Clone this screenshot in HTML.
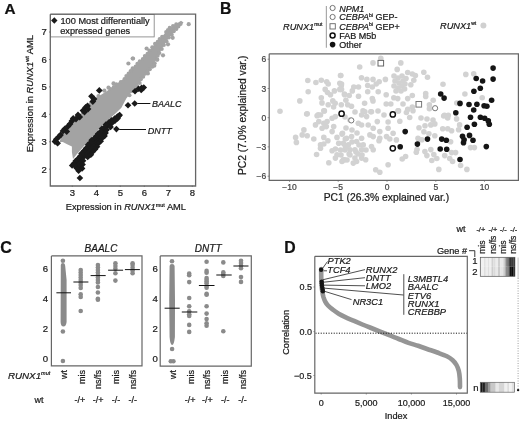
<!DOCTYPE html>
<html><head><meta charset="utf-8"><title>Figure</title>
<style>html,body{margin:0;padding:0;background:#fff;} svg{display:block;} text{font-family:'Liberation Sans',Arial,sans-serif;}</style></head>
<body><svg width="520" height="422" viewBox="0 0 520 422">
<rect width="520" height="422" fill="#fff"/>
<text x="4.5" y="13.8" font-size="15.3" text-anchor="start" fill="#111" stroke="#111" stroke-width="0.22" font-weight="bold" style="">A</text>
<polygon points="181.0,20.8 183.5,22.5 179.0,27.0 174.0,31.5 169.0,37.5 164.0,45.0 159.5,53.0 156.5,59.0 152.0,66.5 145.5,74.2 139.5,82.7 132.0,91.3 126.3,98.4 121.4,107.8 116.0,113.0 108.0,120.0 100.0,128.0 92.0,137.0 84.0,146.0 77.0,154.0 73.0,159.0 71.9,152.0 71.9,146.4 67.1,144.2 62.8,141.9 60.0,142.0 60.0,140.0 62.5,135.5 66.5,130.0 70.5,124.5 75.5,118.5 84.0,110.0 89.0,102.5 93.0,99.0 100.0,95.5 107.0,91.0 116.3,84.1 124.0,78.4 131.0,71.3 135.0,66.0 140.0,61.5 144.5,55.6 149.5,50.8 154.9,43.7 162.0,36.6 166.0,32.0 170.0,28.0 176.0,24.0" fill="#a3a3a3"/>
<circle cx="176.2" cy="24.2" r="2.0" fill="#a3a3a3" stroke="none" stroke-width="1"/>
<circle cx="173.0" cy="26.0" r="2.0" fill="#a3a3a3" stroke="none" stroke-width="1"/>
<circle cx="169.7" cy="27.7" r="2.0" fill="#a3a3a3" stroke="none" stroke-width="1"/>
<circle cx="166.1" cy="32.1" r="2.0" fill="#a3a3a3" stroke="none" stroke-width="1"/>
<circle cx="162.1" cy="36.7" r="2.0" fill="#a3a3a3" stroke="none" stroke-width="1"/>
<circle cx="159.6" cy="39.0" r="2.0" fill="#a3a3a3" stroke="none" stroke-width="1"/>
<circle cx="157.7" cy="41.8" r="2.0" fill="#a3a3a3" stroke="none" stroke-width="1"/>
<circle cx="155.0" cy="43.8" r="2.0" fill="#a3a3a3" stroke="none" stroke-width="1"/>
<circle cx="152.2" cy="47.2" r="2.0" fill="#a3a3a3" stroke="none" stroke-width="1"/>
<circle cx="149.3" cy="50.6" r="2.0" fill="#a3a3a3" stroke="none" stroke-width="1"/>
<circle cx="147.5" cy="53.7" r="2.0" fill="#a3a3a3" stroke="none" stroke-width="1"/>
<circle cx="144.8" cy="55.9" r="2.0" fill="#a3a3a3" stroke="none" stroke-width="1"/>
<circle cx="142.8" cy="59.1" r="2.0" fill="#a3a3a3" stroke="none" stroke-width="1"/>
<circle cx="139.8" cy="61.3" r="2.0" fill="#a3a3a3" stroke="none" stroke-width="1"/>
<circle cx="137.4" cy="63.7" r="2.0" fill="#a3a3a3" stroke="none" stroke-width="1"/>
<circle cx="135.6" cy="66.6" r="2.0" fill="#a3a3a3" stroke="none" stroke-width="1"/>
<circle cx="132.6" cy="68.2" r="2.0" fill="#a3a3a3" stroke="none" stroke-width="1"/>
<circle cx="130.6" cy="70.9" r="2.0" fill="#a3a3a3" stroke="none" stroke-width="1"/>
<circle cx="128.6" cy="73.6" r="2.0" fill="#a3a3a3" stroke="none" stroke-width="1"/>
<circle cx="126.3" cy="76.0" r="2.0" fill="#a3a3a3" stroke="none" stroke-width="1"/>
<circle cx="124.5" cy="78.9" r="2.0" fill="#a3a3a3" stroke="none" stroke-width="1"/>
<circle cx="120.8" cy="81.9" r="2.0" fill="#a3a3a3" stroke="none" stroke-width="1"/>
<circle cx="116.4" cy="84.2" r="2.0" fill="#a3a3a3" stroke="none" stroke-width="1"/>
<circle cx="113.8" cy="87.0" r="2.0" fill="#a3a3a3" stroke="none" stroke-width="1"/>
<circle cx="110.5" cy="89.1" r="2.0" fill="#a3a3a3" stroke="none" stroke-width="1"/>
<circle cx="180.6" cy="24.1" r="2.0" fill="#a3a3a3" stroke="none" stroke-width="1"/>
<circle cx="178.4" cy="26.4" r="2.0" fill="#a3a3a3" stroke="none" stroke-width="1"/>
<circle cx="176.4" cy="29.1" r="2.0" fill="#a3a3a3" stroke="none" stroke-width="1"/>
<circle cx="173.8" cy="31.3" r="2.0" fill="#a3a3a3" stroke="none" stroke-width="1"/>
<circle cx="171.8" cy="34.8" r="2.0" fill="#a3a3a3" stroke="none" stroke-width="1"/>
<circle cx="168.9" cy="37.4" r="2.0" fill="#a3a3a3" stroke="none" stroke-width="1"/>
<circle cx="166.5" cy="41.3" r="2.0" fill="#a3a3a3" stroke="none" stroke-width="1"/>
<circle cx="163.9" cy="44.9" r="2.0" fill="#a3a3a3" stroke="none" stroke-width="1"/>
<circle cx="161.8" cy="49.1" r="2.0" fill="#a3a3a3" stroke="none" stroke-width="1"/>
<circle cx="159.4" cy="52.9" r="2.0" fill="#a3a3a3" stroke="none" stroke-width="1"/>
<circle cx="157.7" cy="55.7" r="2.0" fill="#a3a3a3" stroke="none" stroke-width="1"/>
<circle cx="156.9" cy="59.4" r="2.0" fill="#a3a3a3" stroke="none" stroke-width="1"/>
<circle cx="154.7" cy="63.2" r="2.0" fill="#a3a3a3" stroke="none" stroke-width="1"/>
<circle cx="152.3" cy="66.8" r="2.0" fill="#a3a3a3" stroke="none" stroke-width="1"/>
<circle cx="149.9" cy="69.2" r="2.0" fill="#a3a3a3" stroke="none" stroke-width="1"/>
<circle cx="147.4" cy="71.3" r="2.0" fill="#a3a3a3" stroke="none" stroke-width="1"/>
<circle cx="145.1" cy="73.8" r="2.0" fill="#a3a3a3" stroke="none" stroke-width="1"/>
<circle cx="143.2" cy="76.7" r="2.0" fill="#a3a3a3" stroke="none" stroke-width="1"/>
<circle cx="140.9" cy="79.3" r="2.0" fill="#a3a3a3" stroke="none" stroke-width="1"/>
<circle cx="139.7" cy="82.9" r="2.0" fill="#a3a3a3" stroke="none" stroke-width="1"/>
<circle cx="136.8" cy="85.4" r="2.0" fill="#a3a3a3" stroke="none" stroke-width="1"/>
<circle cx="134.8" cy="88.7" r="2.0" fill="#a3a3a3" stroke="none" stroke-width="1"/>
<circle cx="131.8" cy="91.1" r="2.0" fill="#a3a3a3" stroke="none" stroke-width="1"/>
<circle cx="129.5" cy="95.2" r="2.0" fill="#a3a3a3" stroke="none" stroke-width="1"/>
<circle cx="188.7" cy="24.2" r="2.1" fill="#a3a3a3" stroke="none" stroke-width="1"/>
<circle cx="172.7" cy="37.8" r="2.1" fill="#a3a3a3" stroke="none" stroke-width="1"/>
<circle cx="168.0" cy="44.3" r="2.1" fill="#a3a3a3" stroke="none" stroke-width="1"/>
<circle cx="163.0" cy="55.3" r="2.1" fill="#a3a3a3" stroke="none" stroke-width="1"/>
<circle cx="157.3" cy="59.7" r="2.1" fill="#a3a3a3" stroke="none" stroke-width="1"/>
<circle cx="154.3" cy="65.7" r="2.1" fill="#a3a3a3" stroke="none" stroke-width="1"/>
<circle cx="146.6" cy="48.5" r="2.1" fill="#a3a3a3" stroke="none" stroke-width="1"/>
<circle cx="133.0" cy="58.5" r="2.1" fill="#a3a3a3" stroke="none" stroke-width="1"/>
<circle cx="132.7" cy="58.5" r="2.1" fill="#a3a3a3" stroke="none" stroke-width="1"/>
<circle cx="128.4" cy="63.5" r="2.1" fill="#a3a3a3" stroke="none" stroke-width="1"/>
<circle cx="147.9" cy="73.5" r="2.1" fill="#a3a3a3" stroke="none" stroke-width="1"/>
<circle cx="113.5" cy="83.4" r="2.1" fill="#a3a3a3" stroke="none" stroke-width="1"/>
<circle cx="108.5" cy="87.7" r="2.1" fill="#a3a3a3" stroke="none" stroke-width="1"/>
<circle cx="168.0" cy="30.0" r="2.1" fill="#a3a3a3" stroke="none" stroke-width="1"/>
<circle cx="104.4" cy="90.7" r="2.1" fill="#a3a3a3" stroke="none" stroke-width="1"/>
<circle cx="98.5" cy="96.0" r="2.1" fill="#a3a3a3" stroke="none" stroke-width="1"/>
<polygon points="119.9,115.4 111.9,120.2 106.4,125.0 100.4,130.9 95.4,136.8 88.4,144.6 85.9,148.5 81.9,153.9 77.9,158.9 73.4,163.4 72.4,165.4 73.4,164.8 78.3,170.6 81.6,168.1 82.4,160.4 87.6,156.9 92.2,151.4 98.4,143.8 102.2,138.4 106.9,129.9 111.9,122.9 118.9,115.4" fill="#1a1a1a"/>
<path d="M119.7 111.8L122.9 115.0L119.7 118.2L116.5 115.0Z" fill="#1a1a1a"/>
<path d="M117.4 113.3L120.6 116.5L117.4 119.7L114.2 116.5Z" fill="#1a1a1a"/>
<path d="M114.6 115.2L117.8 118.4L114.6 121.6L111.4 118.4Z" fill="#1a1a1a"/>
<path d="M111.4 117.0L114.6 120.2L111.4 123.4L108.2 120.2Z" fill="#1a1a1a"/>
<path d="M108.6 119.3L111.8 122.5L108.6 125.7L105.4 122.5Z" fill="#1a1a1a"/>
<path d="M105.9 121.3L109.1 124.5L105.9 127.7L102.7 124.5Z" fill="#1a1a1a"/>
<path d="M104.3 124.2L107.5 127.4L104.3 130.6L101.1 127.4Z" fill="#1a1a1a"/>
<path d="M101.9 125.4L105.1 128.6L101.9 131.8L98.7 128.6Z" fill="#1a1a1a"/>
<path d="M100.6 128.2L103.8 131.4L100.6 134.6L97.4 131.4Z" fill="#1a1a1a"/>
<path d="M98.0 130.5L101.2 133.7L98.0 136.9L94.8 133.7Z" fill="#1a1a1a"/>
<path d="M96.0 133.1L99.2 136.3L96.0 139.5L92.8 136.3Z" fill="#1a1a1a"/>
<path d="M94.1 135.3L97.3 138.5L94.1 141.7L90.9 138.5Z" fill="#1a1a1a"/>
<path d="M91.5 137.0L94.7 140.2L91.5 143.4L88.3 140.2Z" fill="#1a1a1a"/>
<path d="M89.9 139.8L93.1 143.0L89.9 146.2L86.7 143.0Z" fill="#1a1a1a"/>
<path d="M88.0 141.5L91.2 144.7L88.0 147.9L84.8 144.7Z" fill="#1a1a1a"/>
<path d="M86.1 145.1L89.3 148.3L86.1 151.5L82.9 148.3Z" fill="#1a1a1a"/>
<path d="M84.0 147.5L87.2 150.7L84.0 153.9L80.8 150.7Z" fill="#1a1a1a"/>
<path d="M81.4 150.3L84.6 153.5L81.4 156.7L78.2 153.5Z" fill="#1a1a1a"/>
<path d="M80.1 153.1L83.3 156.3L80.1 159.5L76.9 156.3Z" fill="#1a1a1a"/>
<path d="M77.7 155.8L80.9 159.0L77.7 162.2L74.5 159.0Z" fill="#1a1a1a"/>
<path d="M75.6 157.7L78.8 160.9L75.6 164.1L72.4 160.9Z" fill="#1a1a1a"/>
<path d="M73.8 160.4L77.0 163.6L73.8 166.8L70.6 163.6Z" fill="#1a1a1a"/>
<path d="M72.1 162.3L75.3 165.5L72.1 168.7L68.9 165.5Z" fill="#1a1a1a"/>
<path d="M119.3 112.3L122.6 115.6L119.3 118.9L116.0 115.6Z" fill="#1a1a1a"/>
<path d="M117.6 115.1L120.9 118.4L117.6 121.7L114.3 118.4Z" fill="#1a1a1a"/>
<path d="M115.0 117.5L118.3 120.8L115.0 124.1L111.7 120.8Z" fill="#1a1a1a"/>
<path d="M112.0 119.6L115.3 122.9L112.0 126.2L108.7 122.9Z" fill="#1a1a1a"/>
<path d="M110.6 123.7L113.9 127.0L110.6 130.3L107.3 127.0Z" fill="#1a1a1a"/>
<path d="M106.7 126.5L110.0 129.8L106.7 133.1L103.4 129.8Z" fill="#1a1a1a"/>
<path d="M105.6 129.6L108.9 132.9L105.6 136.2L102.3 132.9Z" fill="#1a1a1a"/>
<path d="M104.6 132.7L107.9 136.0L104.6 139.3L101.3 136.0Z" fill="#1a1a1a"/>
<path d="M102.0 135.0L105.3 138.3L102.0 141.6L98.7 138.3Z" fill="#1a1a1a"/>
<path d="M100.7 138.0L104.0 141.3L100.7 144.6L97.4 141.3Z" fill="#1a1a1a"/>
<path d="M98.1 140.3L101.4 143.6L98.1 146.9L94.8 143.6Z" fill="#1a1a1a"/>
<path d="M97.0 143.4L100.3 146.7L97.0 150.0L93.7 146.7Z" fill="#1a1a1a"/>
<path d="M95.1 146.0L98.4 149.3L95.1 152.6L91.8 149.3Z" fill="#1a1a1a"/>
<path d="M92.7 148.4L96.0 151.7L92.7 155.0L89.4 151.7Z" fill="#1a1a1a"/>
<path d="M90.9 151.4L94.2 154.7L90.9 158.0L87.6 154.7Z" fill="#1a1a1a"/>
<path d="M87.7 153.7L91.0 157.0L87.7 160.3L84.4 157.0Z" fill="#1a1a1a"/>
<path d="M83.1 157.5L86.4 160.8L83.1 164.1L79.8 160.8Z" fill="#1a1a1a"/>
<path d="M82.6 161.2L85.9 164.5L82.6 167.8L79.3 164.5Z" fill="#1a1a1a"/>
<path d="M82.1 165.1L85.4 168.4L82.1 171.7L78.8 168.4Z" fill="#1a1a1a"/>
<path d="M78.6 167.5L81.9 170.8L78.6 174.1L75.3 170.8Z" fill="#1a1a1a"/>
<path d="M76.8 164.9L80.1 168.2L76.8 171.5L73.5 168.2Z" fill="#1a1a1a"/>
<path d="M74.5 162.1L77.8 165.4L74.5 168.7L71.2 165.4Z" fill="#1a1a1a"/>
<path d="M99.3 87.0L102.7 90.4L99.3 93.8L95.9 90.4Z" fill="#1a1a1a"/>
<path d="M91.5 92.9L94.9 96.3L91.5 99.7L88.1 96.3Z" fill="#1a1a1a"/>
<path d="M92.8 98.1L96.2 101.5L92.8 104.9L89.4 101.5Z" fill="#1a1a1a"/>
<path d="M94.0 95.6L97.4 99.0L94.0 102.4L90.6 99.0Z" fill="#1a1a1a"/>
<path d="M85.6 104.0L89.0 107.4L85.6 110.8L82.2 107.4Z" fill="#1a1a1a"/>
<path d="M83.0 107.2L86.4 110.6L83.0 114.0L79.6 110.6Z" fill="#1a1a1a"/>
<path d="M87.5 102.6L90.9 106.0L87.5 109.4L84.1 106.0Z" fill="#1a1a1a"/>
<path d="M84.5 108.6L87.9 112.0L84.5 115.4L81.1 112.0Z" fill="#1a1a1a"/>
<path d="M88.0 105.6L91.4 109.0L88.0 112.4L84.6 109.0Z" fill="#1a1a1a"/>
<path d="M79.7 113.7L83.1 117.1L79.7 120.5L76.3 117.1Z" fill="#1a1a1a"/>
<path d="M73.2 115.0L76.6 118.4L73.2 121.8L69.8 118.4Z" fill="#1a1a1a"/>
<path d="M71.9 117.6L75.3 121.0L71.9 124.4L68.5 121.0Z" fill="#1a1a1a"/>
<path d="M76.0 115.6L79.4 119.0L76.0 122.4L72.6 119.0Z" fill="#1a1a1a"/>
<path d="M78.0 111.6L81.4 115.0L78.0 118.4L74.6 115.0Z" fill="#1a1a1a"/>
<path d="M68.0 122.9L71.4 126.3L68.0 129.7L64.6 126.3Z" fill="#1a1a1a"/>
<path d="M64.8 125.5L68.2 128.9L64.8 132.3L61.4 128.9Z" fill="#1a1a1a"/>
<path d="M66.7 128.1L70.1 131.5L66.7 134.9L63.3 131.5Z" fill="#1a1a1a"/>
<path d="M70.0 120.6L73.4 124.0L70.0 127.4L66.6 124.0Z" fill="#1a1a1a"/>
<path d="M63.0 127.6L66.4 131.0L63.0 134.4L59.6 131.0Z" fill="#1a1a1a"/>
<path d="M58.9 133.3L62.3 136.7L58.9 140.1L55.5 136.7Z" fill="#1a1a1a"/>
<path d="M56.3 135.9L59.7 139.3L56.3 142.7L52.9 139.3Z" fill="#1a1a1a"/>
<path d="M57.6 139.8L61.0 143.2L57.6 146.6L54.2 143.2Z" fill="#1a1a1a"/>
<path d="M60.5 131.6L63.9 135.0L60.5 138.4L57.1 135.0Z" fill="#1a1a1a"/>
<path d="M55.0 138.1L58.4 141.5L55.0 144.9L51.6 141.5Z" fill="#1a1a1a"/>
<path d="M135.0 88.0L138.3 91.2L135.0 94.5L131.7 91.2Z" fill="#1a1a1a"/>
<path d="M138.5 85.4L141.8 88.7L138.5 92.0L135.2 88.7Z" fill="#1a1a1a"/>
<path d="M141.2 86.7L144.6 90.0L141.2 93.3L137.9 90.0Z" fill="#1a1a1a"/>
<path d="M143.8 84.2L147.1 87.5L143.8 90.8L140.4 87.5Z" fill="#1a1a1a"/>
<path d="M141.6 84.6L144.9 87.9L141.6 91.2L138.3 87.9Z" fill="#1a1a1a"/>
<path d="M128.0 102.0L131.3 105.3L128.0 108.6L124.7 105.3Z" fill="#1a1a1a"/>
<path d="M134.7 100.2L138.0 103.5L134.7 106.8L131.4 103.5Z" fill="#1a1a1a"/>
<path d="M116.4 125.8L119.7 129.1L116.4 132.4L113.1 129.1Z" fill="#1a1a1a"/>
<path d="M79.9 174.7L83.2 178.0L79.9 181.3L76.6 178.0Z" fill="#1a1a1a"/>
<rect x="50.5" y="14.5" width="103.7" height="22.4" fill="#fff" stroke="#8a8a8a" stroke-width="0.9"/>
<path d="M54.3 17.3L57.5 20.5L54.3 23.7L51.1 20.5Z" fill="#1a1a1a"/>
<text x="60.5" y="23.8" font-size="9.2" text-anchor="start" fill="#1a1a1a" stroke="#1a1a1a" stroke-width="0.22"  style="">100 Most differentially</text>
<text x="60.2" y="34.4" font-size="9.2" text-anchor="start" fill="#1a1a1a" stroke="#1a1a1a" stroke-width="0.22"  style="">expressed genes</text>
<line x1="137.5" y1="103.5" x2="150.4" y2="103.5" stroke="#111" stroke-width="1"/>
<text x="151.9" y="106.8" font-size="9" text-anchor="start" fill="#1a1a1a" stroke="#1a1a1a" stroke-width="0.22"  style="font-style:italic">BAALC</text>
<line x1="119.2" y1="129.5" x2="146" y2="129.5" stroke="#111" stroke-width="1"/>
<text x="147.7" y="133.6" font-size="9" text-anchor="start" fill="#1a1a1a" stroke="#1a1a1a" stroke-width="0.22"  style="font-style:italic">DNTT</text>
<path d="M50.3 14.2V186H195.6V14.2H50.3" fill="none" stroke="#666" stroke-width="1.3"/>
<text x="46.7" y="35.4" font-size="9.5" text-anchor="end" fill="#1a1a1a" stroke="#1a1a1a" stroke-width="0.22"  style="">7</text>
<line x1="49" y1="32.0" x2="50.3" y2="32.0" stroke="#666" stroke-width="0.8"/>
<text x="46.7" y="62.9" font-size="9.5" text-anchor="end" fill="#1a1a1a" stroke="#1a1a1a" stroke-width="0.22"  style="">6</text>
<line x1="49" y1="59.5" x2="50.3" y2="59.5" stroke="#666" stroke-width="0.8"/>
<text x="46.7" y="90.3" font-size="9.5" text-anchor="end" fill="#1a1a1a" stroke="#1a1a1a" stroke-width="0.22"  style="">5</text>
<line x1="49" y1="86.9" x2="50.3" y2="86.9" stroke="#666" stroke-width="0.8"/>
<text x="46.7" y="117.8" font-size="9.5" text-anchor="end" fill="#1a1a1a" stroke="#1a1a1a" stroke-width="0.22"  style="">4</text>
<line x1="49" y1="114.3" x2="50.3" y2="114.3" stroke="#666" stroke-width="0.8"/>
<text x="46.7" y="145.2" font-size="9.5" text-anchor="end" fill="#1a1a1a" stroke="#1a1a1a" stroke-width="0.22"  style="">3</text>
<line x1="49" y1="141.8" x2="50.3" y2="141.8" stroke="#666" stroke-width="0.8"/>
<text x="46.7" y="172.7" font-size="9.5" text-anchor="end" fill="#1a1a1a" stroke="#1a1a1a" stroke-width="0.22"  style="">2</text>
<line x1="49" y1="169.2" x2="50.3" y2="169.2" stroke="#666" stroke-width="0.8"/>
<text x="72.3" y="195.8" font-size="9.5" text-anchor="middle" fill="#1a1a1a" stroke="#1a1a1a" stroke-width="0.22"  style="">3</text>
<line x1="72.3" y1="185.6" x2="72.3" y2="187" stroke="#666" stroke-width="0.8"/>
<text x="96.3" y="195.8" font-size="9.5" text-anchor="middle" fill="#1a1a1a" stroke="#1a1a1a" stroke-width="0.22"  style="">4</text>
<line x1="96.3" y1="185.6" x2="96.3" y2="187" stroke="#666" stroke-width="0.8"/>
<text x="120.3" y="195.8" font-size="9.5" text-anchor="middle" fill="#1a1a1a" stroke="#1a1a1a" stroke-width="0.22"  style="">5</text>
<line x1="120.3" y1="185.6" x2="120.3" y2="187" stroke="#666" stroke-width="0.8"/>
<text x="144.3" y="195.8" font-size="9.5" text-anchor="middle" fill="#1a1a1a" stroke="#1a1a1a" stroke-width="0.22"  style="">6</text>
<line x1="144.3" y1="185.6" x2="144.3" y2="187" stroke="#666" stroke-width="0.8"/>
<text x="168.3" y="195.8" font-size="9.5" text-anchor="middle" fill="#1a1a1a" stroke="#1a1a1a" stroke-width="0.22"  style="">7</text>
<line x1="168.3" y1="185.6" x2="168.3" y2="187" stroke="#666" stroke-width="0.8"/>
<text x="192.3" y="195.8" font-size="9.5" text-anchor="middle" fill="#1a1a1a" stroke="#1a1a1a" stroke-width="0.22"  style="">8</text>
<line x1="192.3" y1="185.6" x2="192.3" y2="187" stroke="#666" stroke-width="0.8"/>
<text x="125.9" y="210.0" font-size="9.3" text-anchor="middle" fill="#1a1a1a" stroke="#1a1a1a" stroke-width="0.22"  style="">Expression in <tspan font-style="italic">RUNX1</tspan><tspan font-size="5.5" dy="-3.5">mut</tspan><tspan dy="3.5"> AML</tspan></text>
<g transform="translate(32.8,93.55) rotate(-90)">
<text x="0.0" y="0.0" font-size="9.35" text-anchor="middle" fill="#1a1a1a" stroke="#1a1a1a" stroke-width="0.22"  style="">Expression in <tspan font-style="italic">RUNX1</tspan><tspan font-size="5.5" dy="-3.5">wt</tspan><tspan dy="3.5"> AML</tspan></text>
</g>
<text x="220.0" y="13.6" font-size="15.8" text-anchor="start" fill="#111" stroke="#111" stroke-width="0.22" font-weight="bold" style="">B</text>
<text x="283.0" y="29.5" font-size="9.2" text-anchor="start" fill="#1a1a1a" stroke="#1a1a1a" stroke-width="0.22"  style=""><tspan font-style="italic">RUNX1</tspan><tspan font-size="5" dy="-3.5">mut</tspan></text>
<line x1="326.4" y1="6" x2="326.4" y2="47.7" stroke="#aaa" stroke-width="1.2"/>
<circle cx="332.6" cy="8.0" r="2.6" fill="#fff" stroke="#666" stroke-width="0.9"/>
<circle cx="332.6" cy="17.0" r="2.6" fill="#fff" stroke="#666" stroke-width="0.9"/>
<rect x="330" y="23.7" width="5.3" height="5.3" fill="#fff" stroke="#666" stroke-width="0.9"/>
<circle cx="332.6" cy="35.5" r="2.5" fill="#fff" stroke="#111" stroke-width="1.5"/>
<circle cx="332.6" cy="44.6" r="2.8" fill="#111" stroke="none" stroke-width="1"/>
<text x="339.2" y="11.5" font-size="9" text-anchor="start" fill="#1a1a1a" stroke="#1a1a1a" stroke-width="0.22"  style="font-style:italic">NPM1</text>
<text x="339.2" y="20.3" font-size="9" text-anchor="start" fill="#1a1a1a" stroke="#1a1a1a" stroke-width="0.22"  style=""><tspan font-style="italic">CEBPA</tspan><tspan font-size="5" dy="-3.5">bi</tspan><tspan dy="3.5"> GEP-</tspan></text>
<text x="339.2" y="29.5" font-size="9" text-anchor="start" fill="#1a1a1a" stroke="#1a1a1a" stroke-width="0.22"  style=""><tspan font-style="italic">CEBPA</tspan><tspan font-size="5" dy="-3.5">bi</tspan><tspan dy="3.5"> GEP+</tspan></text>
<text x="339.2" y="38.6" font-size="9" text-anchor="start" fill="#1a1a1a" stroke="#1a1a1a" stroke-width="0.22"  style="">FAB M5b</text>
<text x="339.2" y="47.6" font-size="9" text-anchor="start" fill="#1a1a1a" stroke="#1a1a1a" stroke-width="0.22"  style="">Other</text>
<text x="440.0" y="28.8" font-size="9.2" text-anchor="start" fill="#1a1a1a" stroke="#1a1a1a" stroke-width="0.22"  style=""><tspan font-style="italic">RUNX1</tspan><tspan font-size="5" dy="-3.5">wt</tspan></text>
<circle cx="483.4" cy="25.4" r="3" fill="#d0d0d0" stroke="none" stroke-width="1"/>
<circle cx="340.5" cy="75.5" r="2.8" fill="#d2d2d2" stroke="none" stroke-width="1"/>
<circle cx="307.8" cy="80.5" r="2.8" fill="#d2d2d2" stroke="none" stroke-width="1"/>
<circle cx="315.9" cy="82.5" r="2.8" fill="#d2d2d2" stroke="none" stroke-width="1"/>
<circle cx="321.3" cy="80.2" r="2.8" fill="#d2d2d2" stroke="none" stroke-width="1"/>
<circle cx="326.7" cy="81.7" r="2.8" fill="#d2d2d2" stroke="none" stroke-width="1"/>
<circle cx="328.2" cy="84.0" r="2.8" fill="#d2d2d2" stroke="none" stroke-width="1"/>
<circle cx="339.8" cy="83.2" r="2.8" fill="#d2d2d2" stroke="none" stroke-width="1"/>
<circle cx="341.3" cy="85.5" r="2.8" fill="#d2d2d2" stroke="none" stroke-width="1"/>
<circle cx="308.2" cy="91.7" r="2.8" fill="#d2d2d2" stroke="none" stroke-width="1"/>
<circle cx="325.2" cy="89.4" r="2.8" fill="#d2d2d2" stroke="none" stroke-width="1"/>
<circle cx="327.5" cy="92.5" r="2.8" fill="#d2d2d2" stroke="none" stroke-width="1"/>
<circle cx="330.5" cy="94.8" r="2.8" fill="#d2d2d2" stroke="none" stroke-width="1"/>
<circle cx="334.4" cy="90.9" r="2.8" fill="#d2d2d2" stroke="none" stroke-width="1"/>
<circle cx="339.8" cy="89.4" r="2.8" fill="#d2d2d2" stroke="none" stroke-width="1"/>
<circle cx="344.4" cy="94.0" r="2.8" fill="#d2d2d2" stroke="none" stroke-width="1"/>
<circle cx="299.8" cy="100.9" r="2.8" fill="#d2d2d2" stroke="none" stroke-width="1"/>
<circle cx="321.3" cy="97.8" r="2.8" fill="#d2d2d2" stroke="none" stroke-width="1"/>
<circle cx="322.0" cy="102.9" r="2.8" fill="#d2d2d2" stroke="none" stroke-width="1"/>
<circle cx="328.2" cy="104.8" r="2.8" fill="#d2d2d2" stroke="none" stroke-width="1"/>
<circle cx="332.8" cy="100.9" r="2.8" fill="#d2d2d2" stroke="none" stroke-width="1"/>
<circle cx="335.2" cy="103.2" r="2.8" fill="#d2d2d2" stroke="none" stroke-width="1"/>
<circle cx="333.6" cy="107.0" r="2.8" fill="#d2d2d2" stroke="none" stroke-width="1"/>
<circle cx="341.3" cy="104.8" r="2.8" fill="#d2d2d2" stroke="none" stroke-width="1"/>
<circle cx="345.9" cy="100.2" r="2.8" fill="#d2d2d2" stroke="none" stroke-width="1"/>
<circle cx="280.0" cy="111.2" r="2.8" fill="#d2d2d2" stroke="none" stroke-width="1"/>
<circle cx="306.7" cy="114.0" r="2.8" fill="#d2d2d2" stroke="none" stroke-width="1"/>
<circle cx="318.2" cy="114.8" r="2.8" fill="#d2d2d2" stroke="none" stroke-width="1"/>
<circle cx="324.4" cy="110.9" r="2.8" fill="#d2d2d2" stroke="none" stroke-width="1"/>
<circle cx="373.0" cy="62.9" r="2.8" fill="#d2d2d2" stroke="none" stroke-width="1"/>
<circle cx="380.8" cy="58.3" r="2.8" fill="#d2d2d2" stroke="none" stroke-width="1"/>
<circle cx="359.7" cy="67.0" r="2.8" fill="#d2d2d2" stroke="none" stroke-width="1"/>
<circle cx="400.8" cy="62.9" r="2.8" fill="#d2d2d2" stroke="none" stroke-width="1"/>
<circle cx="397.2" cy="69.4" r="2.8" fill="#d2d2d2" stroke="none" stroke-width="1"/>
<circle cx="340.8" cy="75.5" r="2.8" fill="#d2d2d2" stroke="none" stroke-width="1"/>
<circle cx="361.5" cy="77.8" r="2.8" fill="#d2d2d2" stroke="none" stroke-width="1"/>
<circle cx="366.9" cy="79.4" r="2.8" fill="#d2d2d2" stroke="none" stroke-width="1"/>
<circle cx="373.0" cy="79.4" r="2.8" fill="#d2d2d2" stroke="none" stroke-width="1"/>
<circle cx="379.2" cy="81.7" r="2.8" fill="#d2d2d2" stroke="none" stroke-width="1"/>
<circle cx="385.4" cy="79.4" r="2.8" fill="#d2d2d2" stroke="none" stroke-width="1"/>
<circle cx="394.0" cy="76.0" r="2.8" fill="#d2d2d2" stroke="none" stroke-width="1"/>
<circle cx="398.0" cy="78.0" r="2.8" fill="#d2d2d2" stroke="none" stroke-width="1"/>
<circle cx="402.0" cy="76.0" r="2.8" fill="#d2d2d2" stroke="none" stroke-width="1"/>
<circle cx="395.0" cy="81.0" r="2.8" fill="#d2d2d2" stroke="none" stroke-width="1"/>
<circle cx="399.0" cy="83.0" r="2.8" fill="#d2d2d2" stroke="none" stroke-width="1"/>
<circle cx="403.0" cy="81.0" r="2.8" fill="#d2d2d2" stroke="none" stroke-width="1"/>
<circle cx="394.0" cy="86.0" r="2.8" fill="#d2d2d2" stroke="none" stroke-width="1"/>
<circle cx="398.0" cy="88.0" r="2.8" fill="#d2d2d2" stroke="none" stroke-width="1"/>
<circle cx="402.0" cy="86.0" r="2.8" fill="#d2d2d2" stroke="none" stroke-width="1"/>
<circle cx="396.0" cy="91.0" r="2.8" fill="#d2d2d2" stroke="none" stroke-width="1"/>
<circle cx="401.0" cy="91.0" r="2.8" fill="#d2d2d2" stroke="none" stroke-width="1"/>
<circle cx="405.0" cy="84.0" r="2.8" fill="#d2d2d2" stroke="none" stroke-width="1"/>
<circle cx="404.6" cy="89.0" r="2.8" fill="#d2d2d2" stroke="none" stroke-width="1"/>
<circle cx="407.7" cy="72.5" r="2.8" fill="#d2d2d2" stroke="none" stroke-width="1"/>
<circle cx="412.3" cy="74.0" r="2.8" fill="#d2d2d2" stroke="none" stroke-width="1"/>
<circle cx="415.4" cy="75.5" r="2.8" fill="#d2d2d2" stroke="none" stroke-width="1"/>
<circle cx="406.0" cy="78.6" r="2.8" fill="#d2d2d2" stroke="none" stroke-width="1"/>
<circle cx="413.8" cy="80.2" r="2.8" fill="#d2d2d2" stroke="none" stroke-width="1"/>
<circle cx="410.8" cy="84.8" r="2.8" fill="#d2d2d2" stroke="none" stroke-width="1"/>
<circle cx="367.7" cy="85.5" r="2.8" fill="#d2d2d2" stroke="none" stroke-width="1"/>
<circle cx="372.3" cy="87.0" r="2.8" fill="#d2d2d2" stroke="none" stroke-width="1"/>
<circle cx="376.2" cy="84.0" r="2.8" fill="#d2d2d2" stroke="none" stroke-width="1"/>
<circle cx="353.8" cy="87.0" r="2.8" fill="#d2d2d2" stroke="none" stroke-width="1"/>
<circle cx="358.5" cy="87.0" r="2.8" fill="#d2d2d2" stroke="none" stroke-width="1"/>
<circle cx="341.5" cy="84.0" r="2.8" fill="#d2d2d2" stroke="none" stroke-width="1"/>
<circle cx="341.5" cy="89.4" r="2.8" fill="#d2d2d2" stroke="none" stroke-width="1"/>
<circle cx="367.7" cy="91.7" r="2.8" fill="#d2d2d2" stroke="none" stroke-width="1"/>
<circle cx="378.2" cy="91.7" r="2.8" fill="#d2d2d2" stroke="none" stroke-width="1"/>
<circle cx="386.2" cy="94.8" r="2.8" fill="#d2d2d2" stroke="none" stroke-width="1"/>
<circle cx="344.6" cy="94.8" r="2.8" fill="#d2d2d2" stroke="none" stroke-width="1"/>
<circle cx="349.2" cy="95.5" r="2.8" fill="#d2d2d2" stroke="none" stroke-width="1"/>
<circle cx="352.3" cy="90.9" r="2.8" fill="#d2d2d2" stroke="none" stroke-width="1"/>
<circle cx="358.5" cy="96.3" r="2.8" fill="#d2d2d2" stroke="none" stroke-width="1"/>
<circle cx="372.3" cy="98.6" r="2.8" fill="#d2d2d2" stroke="none" stroke-width="1"/>
<circle cx="373.0" cy="100.9" r="2.8" fill="#d2d2d2" stroke="none" stroke-width="1"/>
<circle cx="393.8" cy="97.8" r="2.8" fill="#d2d2d2" stroke="none" stroke-width="1"/>
<circle cx="397.7" cy="98.6" r="2.8" fill="#d2d2d2" stroke="none" stroke-width="1"/>
<circle cx="407.7" cy="98.6" r="2.8" fill="#d2d2d2" stroke="none" stroke-width="1"/>
<circle cx="412.3" cy="95.5" r="2.8" fill="#d2d2d2" stroke="none" stroke-width="1"/>
<circle cx="364.6" cy="103.2" r="2.8" fill="#d2d2d2" stroke="none" stroke-width="1"/>
<circle cx="386.2" cy="104.0" r="2.8" fill="#d2d2d2" stroke="none" stroke-width="1"/>
<circle cx="390.8" cy="104.0" r="2.8" fill="#d2d2d2" stroke="none" stroke-width="1"/>
<circle cx="403.0" cy="104.0" r="2.8" fill="#d2d2d2" stroke="none" stroke-width="1"/>
<circle cx="347.7" cy="104.8" r="2.8" fill="#d2d2d2" stroke="none" stroke-width="1"/>
<circle cx="351.5" cy="106.3" r="2.8" fill="#d2d2d2" stroke="none" stroke-width="1"/>
<circle cx="363.0" cy="110.9" r="2.8" fill="#d2d2d2" stroke="none" stroke-width="1"/>
<circle cx="370.8" cy="111.7" r="2.8" fill="#d2d2d2" stroke="none" stroke-width="1"/>
<circle cx="407.7" cy="109.4" r="2.8" fill="#d2d2d2" stroke="none" stroke-width="1"/>
<circle cx="412.3" cy="107.0" r="2.8" fill="#d2d2d2" stroke="none" stroke-width="1"/>
<circle cx="398.5" cy="110.9" r="2.8" fill="#d2d2d2" stroke="none" stroke-width="1"/>
<circle cx="423.8" cy="72.3" r="2.8" fill="#d2d2d2" stroke="none" stroke-width="1"/>
<circle cx="427.5" cy="77.2" r="2.8" fill="#d2d2d2" stroke="none" stroke-width="1"/>
<circle cx="465.8" cy="74.4" r="2.8" fill="#d2d2d2" stroke="none" stroke-width="1"/>
<circle cx="473.7" cy="73.8" r="2.8" fill="#d2d2d2" stroke="none" stroke-width="1"/>
<circle cx="443.0" cy="84.2" r="2.8" fill="#d2d2d2" stroke="none" stroke-width="1"/>
<circle cx="425.7" cy="93.6" r="2.8" fill="#d2d2d2" stroke="none" stroke-width="1"/>
<circle cx="425.7" cy="96.4" r="2.8" fill="#d2d2d2" stroke="none" stroke-width="1"/>
<circle cx="433.2" cy="100.2" r="2.8" fill="#d2d2d2" stroke="none" stroke-width="1"/>
<circle cx="464.9" cy="94.0" r="2.8" fill="#d2d2d2" stroke="none" stroke-width="1"/>
<circle cx="482.2" cy="97.7" r="2.8" fill="#d2d2d2" stroke="none" stroke-width="1"/>
<circle cx="429.4" cy="104.9" r="2.8" fill="#d2d2d2" stroke="none" stroke-width="1"/>
<circle cx="429.4" cy="108.7" r="2.8" fill="#d2d2d2" stroke="none" stroke-width="1"/>
<circle cx="456.8" cy="103.0" r="2.8" fill="#d2d2d2" stroke="none" stroke-width="1"/>
<circle cx="444.5" cy="115.3" r="2.8" fill="#d2d2d2" stroke="none" stroke-width="1"/>
<circle cx="448.3" cy="115.3" r="2.8" fill="#d2d2d2" stroke="none" stroke-width="1"/>
<circle cx="307.2" cy="113.7" r="2.8" fill="#d2d2d2" stroke="none" stroke-width="1"/>
<circle cx="317.1" cy="115.8" r="2.8" fill="#d2d2d2" stroke="none" stroke-width="1"/>
<circle cx="320.5" cy="115.0" r="2.8" fill="#d2d2d2" stroke="none" stroke-width="1"/>
<circle cx="323.8" cy="110.8" r="2.8" fill="#d2d2d2" stroke="none" stroke-width="1"/>
<circle cx="315.5" cy="124.9" r="2.8" fill="#d2d2d2" stroke="none" stroke-width="1"/>
<circle cx="318.8" cy="121.6" r="2.8" fill="#d2d2d2" stroke="none" stroke-width="1"/>
<circle cx="323.8" cy="123.3" r="2.8" fill="#d2d2d2" stroke="none" stroke-width="1"/>
<circle cx="327.1" cy="121.6" r="2.8" fill="#d2d2d2" stroke="none" stroke-width="1"/>
<circle cx="322.1" cy="128.3" r="2.8" fill="#d2d2d2" stroke="none" stroke-width="1"/>
<circle cx="326.3" cy="126.6" r="2.8" fill="#d2d2d2" stroke="none" stroke-width="1"/>
<circle cx="332.1" cy="118.3" r="2.8" fill="#d2d2d2" stroke="none" stroke-width="1"/>
<circle cx="335.4" cy="116.6" r="2.8" fill="#d2d2d2" stroke="none" stroke-width="1"/>
<circle cx="333.7" cy="126.6" r="2.8" fill="#d2d2d2" stroke="none" stroke-width="1"/>
<circle cx="332.1" cy="131.6" r="2.8" fill="#d2d2d2" stroke="none" stroke-width="1"/>
<circle cx="303.9" cy="129.9" r="2.8" fill="#d2d2d2" stroke="none" stroke-width="1"/>
<circle cx="302.2" cy="134.9" r="2.8" fill="#d2d2d2" stroke="none" stroke-width="1"/>
<circle cx="307.2" cy="135.7" r="2.8" fill="#d2d2d2" stroke="none" stroke-width="1"/>
<circle cx="295.6" cy="137.4" r="2.8" fill="#d2d2d2" stroke="none" stroke-width="1"/>
<circle cx="296.4" cy="142.4" r="2.8" fill="#d2d2d2" stroke="none" stroke-width="1"/>
<circle cx="313.8" cy="139.0" r="2.8" fill="#d2d2d2" stroke="none" stroke-width="1"/>
<circle cx="323.8" cy="137.4" r="2.8" fill="#d2d2d2" stroke="none" stroke-width="1"/>
<circle cx="327.9" cy="140.7" r="2.8" fill="#d2d2d2" stroke="none" stroke-width="1"/>
<circle cx="320.5" cy="144.9" r="2.8" fill="#d2d2d2" stroke="none" stroke-width="1"/>
<circle cx="323.8" cy="144.0" r="2.8" fill="#d2d2d2" stroke="none" stroke-width="1"/>
<circle cx="320.5" cy="148.2" r="2.8" fill="#d2d2d2" stroke="none" stroke-width="1"/>
<circle cx="337.0" cy="137.4" r="2.8" fill="#d2d2d2" stroke="none" stroke-width="1"/>
<circle cx="338.7" cy="143.2" r="2.8" fill="#d2d2d2" stroke="none" stroke-width="1"/>
<circle cx="342.0" cy="134.1" r="2.8" fill="#d2d2d2" stroke="none" stroke-width="1"/>
<circle cx="345.3" cy="139.0" r="2.8" fill="#d2d2d2" stroke="none" stroke-width="1"/>
<circle cx="345.3" cy="146.5" r="2.8" fill="#d2d2d2" stroke="none" stroke-width="1"/>
<circle cx="332.1" cy="150.7" r="2.8" fill="#d2d2d2" stroke="none" stroke-width="1"/>
<circle cx="335.4" cy="149.0" r="2.8" fill="#d2d2d2" stroke="none" stroke-width="1"/>
<circle cx="316.6" cy="154.5" r="2.8" fill="#d2d2d2" stroke="none" stroke-width="1"/>
<circle cx="337.0" cy="154.8" r="2.8" fill="#d2d2d2" stroke="none" stroke-width="1"/>
<circle cx="335.4" cy="158.1" r="2.8" fill="#d2d2d2" stroke="none" stroke-width="1"/>
<circle cx="342.0" cy="161.5" r="2.8" fill="#d2d2d2" stroke="none" stroke-width="1"/>
<circle cx="344.5" cy="159.8" r="2.8" fill="#d2d2d2" stroke="none" stroke-width="1"/>
<circle cx="328.8" cy="162.8" r="2.8" fill="#d2d2d2" stroke="none" stroke-width="1"/>
<circle cx="364.9" cy="111.7" r="2.8" fill="#d2d2d2" stroke="none" stroke-width="1"/>
<circle cx="371.5" cy="111.7" r="2.8" fill="#d2d2d2" stroke="none" stroke-width="1"/>
<circle cx="361.6" cy="115.0" r="2.8" fill="#d2d2d2" stroke="none" stroke-width="1"/>
<circle cx="366.6" cy="116.6" r="2.8" fill="#d2d2d2" stroke="none" stroke-width="1"/>
<circle cx="377.3" cy="121.6" r="2.8" fill="#d2d2d2" stroke="none" stroke-width="1"/>
<circle cx="388.1" cy="122.0" r="2.8" fill="#d2d2d2" stroke="none" stroke-width="1"/>
<circle cx="399.8" cy="121.3" r="2.8" fill="#d2d2d2" stroke="none" stroke-width="1"/>
<circle cx="398.0" cy="110.8" r="2.8" fill="#d2d2d2" stroke="none" stroke-width="1"/>
<circle cx="406.4" cy="112.5" r="2.8" fill="#d2d2d2" stroke="none" stroke-width="1"/>
<circle cx="413.0" cy="110.8" r="2.8" fill="#d2d2d2" stroke="none" stroke-width="1"/>
<circle cx="409.7" cy="117.5" r="2.8" fill="#d2d2d2" stroke="none" stroke-width="1"/>
<circle cx="358.3" cy="123.3" r="2.8" fill="#d2d2d2" stroke="none" stroke-width="1"/>
<circle cx="361.6" cy="125.0" r="2.8" fill="#d2d2d2" stroke="none" stroke-width="1"/>
<circle cx="368.2" cy="125.0" r="2.8" fill="#d2d2d2" stroke="none" stroke-width="1"/>
<circle cx="373.2" cy="128.3" r="2.8" fill="#d2d2d2" stroke="none" stroke-width="1"/>
<circle cx="379.8" cy="131.6" r="2.8" fill="#d2d2d2" stroke="none" stroke-width="1"/>
<circle cx="388.1" cy="128.3" r="2.8" fill="#d2d2d2" stroke="none" stroke-width="1"/>
<circle cx="369.9" cy="134.9" r="2.8" fill="#d2d2d2" stroke="none" stroke-width="1"/>
<circle cx="373.2" cy="136.6" r="2.8" fill="#d2d2d2" stroke="none" stroke-width="1"/>
<circle cx="379.8" cy="138.2" r="2.8" fill="#d2d2d2" stroke="none" stroke-width="1"/>
<circle cx="379.0" cy="140.7" r="2.8" fill="#d2d2d2" stroke="none" stroke-width="1"/>
<circle cx="386.5" cy="136.6" r="2.8" fill="#d2d2d2" stroke="none" stroke-width="1"/>
<circle cx="389.8" cy="139.0" r="2.8" fill="#d2d2d2" stroke="none" stroke-width="1"/>
<circle cx="393.1" cy="133.2" r="2.8" fill="#d2d2d2" stroke="none" stroke-width="1"/>
<circle cx="396.4" cy="139.9" r="2.8" fill="#d2d2d2" stroke="none" stroke-width="1"/>
<circle cx="342.5" cy="133.2" r="2.8" fill="#d2d2d2" stroke="none" stroke-width="1"/>
<circle cx="346.6" cy="138.2" r="2.8" fill="#d2d2d2" stroke="none" stroke-width="1"/>
<circle cx="351.6" cy="136.6" r="2.8" fill="#d2d2d2" stroke="none" stroke-width="1"/>
<circle cx="343.3" cy="143.2" r="2.8" fill="#d2d2d2" stroke="none" stroke-width="1"/>
<circle cx="348.3" cy="144.9" r="2.8" fill="#d2d2d2" stroke="none" stroke-width="1"/>
<circle cx="350.0" cy="149.8" r="2.8" fill="#d2d2d2" stroke="none" stroke-width="1"/>
<circle cx="356.6" cy="141.5" r="2.8" fill="#d2d2d2" stroke="none" stroke-width="1"/>
<circle cx="361.6" cy="138.2" r="2.8" fill="#d2d2d2" stroke="none" stroke-width="1"/>
<circle cx="363.2" cy="144.9" r="2.8" fill="#d2d2d2" stroke="none" stroke-width="1"/>
<circle cx="354.9" cy="149.8" r="2.8" fill="#d2d2d2" stroke="none" stroke-width="1"/>
<circle cx="361.6" cy="149.8" r="2.8" fill="#d2d2d2" stroke="none" stroke-width="1"/>
<circle cx="371.5" cy="146.5" r="2.8" fill="#d2d2d2" stroke="none" stroke-width="1"/>
<circle cx="373.2" cy="149.8" r="2.8" fill="#d2d2d2" stroke="none" stroke-width="1"/>
<circle cx="349.1" cy="154.0" r="2.8" fill="#d2d2d2" stroke="none" stroke-width="1"/>
<circle cx="354.9" cy="158.1" r="2.8" fill="#d2d2d2" stroke="none" stroke-width="1"/>
<circle cx="361.6" cy="158.1" r="2.8" fill="#d2d2d2" stroke="none" stroke-width="1"/>
<circle cx="365.7" cy="159.8" r="2.8" fill="#d2d2d2" stroke="none" stroke-width="1"/>
<circle cx="353.3" cy="163.1" r="2.8" fill="#d2d2d2" stroke="none" stroke-width="1"/>
<circle cx="356.6" cy="161.5" r="2.8" fill="#d2d2d2" stroke="none" stroke-width="1"/>
<circle cx="343.3" cy="159.8" r="2.8" fill="#d2d2d2" stroke="none" stroke-width="1"/>
<circle cx="402.2" cy="159.0" r="2.8" fill="#d2d2d2" stroke="none" stroke-width="1"/>
<circle cx="405.6" cy="156.5" r="2.8" fill="#d2d2d2" stroke="none" stroke-width="1"/>
<circle cx="388.1" cy="164.8" r="2.8" fill="#d2d2d2" stroke="none" stroke-width="1"/>
<circle cx="375.7" cy="169.8" r="2.8" fill="#d2d2d2" stroke="none" stroke-width="1"/>
<circle cx="379.8" cy="172.2" r="2.8" fill="#d2d2d2" stroke="none" stroke-width="1"/>
<circle cx="416.3" cy="152.3" r="2.8" fill="#d2d2d2" stroke="none" stroke-width="1"/>
<circle cx="418.0" cy="138.2" r="2.8" fill="#d2d2d2" stroke="none" stroke-width="1"/>
<circle cx="345.0" cy="150.0" r="2.8" fill="#d2d2d2" stroke="none" stroke-width="1"/>
<circle cx="350.0" cy="155.0" r="2.8" fill="#d2d2d2" stroke="none" stroke-width="1"/>
<circle cx="356.0" cy="152.0" r="2.8" fill="#d2d2d2" stroke="none" stroke-width="1"/>
<circle cx="346.0" cy="147.0" r="2.8" fill="#d2d2d2" stroke="none" stroke-width="1"/>
<circle cx="359.0" cy="145.0" r="2.8" fill="#d2d2d2" stroke="none" stroke-width="1"/>
<circle cx="352.0" cy="142.0" r="2.8" fill="#d2d2d2" stroke="none" stroke-width="1"/>
<circle cx="340.5" cy="150.0" r="2.8" fill="#d2d2d2" stroke="none" stroke-width="1"/>
<circle cx="341.0" cy="155.0" r="2.8" fill="#d2d2d2" stroke="none" stroke-width="1"/>
<circle cx="347.0" cy="160.0" r="2.8" fill="#d2d2d2" stroke="none" stroke-width="1"/>
<circle cx="358.0" cy="154.0" r="2.8" fill="#d2d2d2" stroke="none" stroke-width="1"/>
<circle cx="362.0" cy="155.0" r="2.8" fill="#d2d2d2" stroke="none" stroke-width="1"/>
<circle cx="366.0" cy="150.0" r="2.8" fill="#d2d2d2" stroke="none" stroke-width="1"/>
<circle cx="346.0" cy="128.0" r="2.8" fill="#d2d2d2" stroke="none" stroke-width="1"/>
<circle cx="352.0" cy="130.0" r="2.8" fill="#d2d2d2" stroke="none" stroke-width="1"/>
<circle cx="357.0" cy="133.0" r="2.8" fill="#d2d2d2" stroke="none" stroke-width="1"/>
<circle cx="350.0" cy="120.0" r="2.8" fill="#d2d2d2" stroke="none" stroke-width="1"/>
<circle cx="345.0" cy="117.0" r="2.8" fill="#d2d2d2" stroke="none" stroke-width="1"/>
<circle cx="355.0" cy="112.0" r="2.8" fill="#d2d2d2" stroke="none" stroke-width="1"/>
<circle cx="384.0" cy="115.0" r="2.8" fill="#d2d2d2" stroke="none" stroke-width="1"/>
<circle cx="378.0" cy="111.0" r="2.8" fill="#d2d2d2" stroke="none" stroke-width="1"/>
<circle cx="421.0" cy="118.0" r="2.8" fill="#d2d2d2" stroke="none" stroke-width="1"/>
<circle cx="427.0" cy="119.0" r="2.8" fill="#d2d2d2" stroke="none" stroke-width="1"/>
<circle cx="433.0" cy="120.0" r="2.8" fill="#d2d2d2" stroke="none" stroke-width="1"/>
<circle cx="443.7" cy="116.0" r="2.8" fill="#d2d2d2" stroke="none" stroke-width="1"/>
<circle cx="447.7" cy="118.0" r="2.8" fill="#d2d2d2" stroke="none" stroke-width="1"/>
<circle cx="419.0" cy="127.8" r="2.8" fill="#d2d2d2" stroke="none" stroke-width="1"/>
<circle cx="425.0" cy="125.8" r="2.8" fill="#d2d2d2" stroke="none" stroke-width="1"/>
<circle cx="430.8" cy="124.9" r="2.8" fill="#d2d2d2" stroke="none" stroke-width="1"/>
<circle cx="434.8" cy="123.9" r="2.8" fill="#d2d2d2" stroke="none" stroke-width="1"/>
<circle cx="442.7" cy="128.8" r="2.8" fill="#d2d2d2" stroke="none" stroke-width="1"/>
<circle cx="447.7" cy="128.8" r="2.8" fill="#d2d2d2" stroke="none" stroke-width="1"/>
<circle cx="451.6" cy="130.8" r="2.8" fill="#d2d2d2" stroke="none" stroke-width="1"/>
<circle cx="456.6" cy="118.9" r="2.8" fill="#d2d2d2" stroke="none" stroke-width="1"/>
<circle cx="459.6" cy="124.9" r="2.8" fill="#d2d2d2" stroke="none" stroke-width="1"/>
<circle cx="458.6" cy="129.8" r="2.8" fill="#d2d2d2" stroke="none" stroke-width="1"/>
<circle cx="423.9" cy="131.8" r="2.8" fill="#d2d2d2" stroke="none" stroke-width="1"/>
<circle cx="428.9" cy="133.8" r="2.8" fill="#d2d2d2" stroke="none" stroke-width="1"/>
<circle cx="419.0" cy="139.7" r="2.8" fill="#d2d2d2" stroke="none" stroke-width="1"/>
<circle cx="421.9" cy="139.7" r="2.8" fill="#d2d2d2" stroke="none" stroke-width="1"/>
<circle cx="434.8" cy="135.7" r="2.8" fill="#d2d2d2" stroke="none" stroke-width="1"/>
<circle cx="450.6" cy="141.7" r="2.8" fill="#d2d2d2" stroke="none" stroke-width="1"/>
<circle cx="417.0" cy="149.6" r="2.8" fill="#d2d2d2" stroke="none" stroke-width="1"/>
<circle cx="424.9" cy="151.6" r="2.8" fill="#d2d2d2" stroke="none" stroke-width="1"/>
<circle cx="430.8" cy="149.6" r="2.8" fill="#d2d2d2" stroke="none" stroke-width="1"/>
<circle cx="426.9" cy="155.6" r="2.8" fill="#d2d2d2" stroke="none" stroke-width="1"/>
<circle cx="433.8" cy="154.6" r="2.8" fill="#d2d2d2" stroke="none" stroke-width="1"/>
<circle cx="436.8" cy="158.5" r="2.8" fill="#d2d2d2" stroke="none" stroke-width="1"/>
<circle cx="444.7" cy="155.6" r="2.8" fill="#d2d2d2" stroke="none" stroke-width="1"/>
<circle cx="451.6" cy="152.6" r="2.8" fill="#d2d2d2" stroke="none" stroke-width="1"/>
<circle cx="455.6" cy="152.6" r="2.8" fill="#d2d2d2" stroke="none" stroke-width="1"/>
<circle cx="449.7" cy="158.5" r="2.8" fill="#d2d2d2" stroke="none" stroke-width="1"/>
<circle cx="452.6" cy="161.5" r="2.8" fill="#d2d2d2" stroke="none" stroke-width="1"/>
<circle cx="431.8" cy="160.5" r="2.8" fill="#d2d2d2" stroke="none" stroke-width="1"/>
<circle cx="470.5" cy="147.6" r="2.8" fill="#d2d2d2" stroke="none" stroke-width="1"/>
<circle cx="474.4" cy="147.6" r="2.8" fill="#d2d2d2" stroke="none" stroke-width="1"/>
<circle cx="460.6" cy="165.5" r="2.8" fill="#d2d2d2" stroke="none" stroke-width="1"/>
<circle cx="438.8" cy="169.4" r="2.8" fill="#d2d2d2" stroke="none" stroke-width="1"/>
<circle cx="466.9" cy="169.4" r="2.8" fill="#d2d2d2" stroke="none" stroke-width="1"/>
<circle cx="493.1" cy="68.1" r="2.8" fill="#151515" stroke="none" stroke-width="1"/>
<circle cx="476.2" cy="78.5" r="2.8" fill="#151515" stroke="none" stroke-width="1"/>
<circle cx="482.6" cy="81.0" r="2.8" fill="#151515" stroke="none" stroke-width="1"/>
<circle cx="493.1" cy="79.1" r="2.8" fill="#151515" stroke="none" stroke-width="1"/>
<circle cx="480.3" cy="88.3" r="2.8" fill="#151515" stroke="none" stroke-width="1"/>
<circle cx="473.9" cy="91.3" r="2.8" fill="#151515" stroke="none" stroke-width="1"/>
<circle cx="440.7" cy="94.0" r="2.8" fill="#151515" stroke="none" stroke-width="1"/>
<circle cx="444.1" cy="98.1" r="2.8" fill="#151515" stroke="none" stroke-width="1"/>
<circle cx="491.6" cy="100.2" r="2.8" fill="#151515" stroke="none" stroke-width="1"/>
<circle cx="460.0" cy="103.4" r="2.8" fill="#151515" stroke="none" stroke-width="1"/>
<circle cx="469.0" cy="104.5" r="2.8" fill="#151515" stroke="none" stroke-width="1"/>
<circle cx="476.9" cy="104.3" r="2.8" fill="#151515" stroke="none" stroke-width="1"/>
<circle cx="484.1" cy="105.8" r="2.8" fill="#151515" stroke="none" stroke-width="1"/>
<circle cx="486.9" cy="106.2" r="2.8" fill="#151515" stroke="none" stroke-width="1"/>
<circle cx="473.7" cy="110.0" r="2.8" fill="#151515" stroke="none" stroke-width="1"/>
<circle cx="455.8" cy="112.8" r="2.8" fill="#151515" stroke="none" stroke-width="1"/>
<circle cx="470.5" cy="117.3" r="2.8" fill="#151515" stroke="none" stroke-width="1"/>
<circle cx="480.4" cy="117.3" r="2.8" fill="#151515" stroke="none" stroke-width="1"/>
<circle cx="484.7" cy="118.3" r="2.8" fill="#151515" stroke="none" stroke-width="1"/>
<circle cx="488.3" cy="120.9" r="2.8" fill="#151515" stroke="none" stroke-width="1"/>
<circle cx="489.3" cy="124.3" r="2.8" fill="#151515" stroke="none" stroke-width="1"/>
<circle cx="474.4" cy="124.3" r="2.8" fill="#151515" stroke="none" stroke-width="1"/>
<circle cx="467.1" cy="127.2" r="2.8" fill="#151515" stroke="none" stroke-width="1"/>
<circle cx="462.5" cy="136.3" r="2.8" fill="#151515" stroke="none" stroke-width="1"/>
<circle cx="469.5" cy="135.4" r="2.8" fill="#151515" stroke="none" stroke-width="1"/>
<circle cx="464.1" cy="139.7" r="2.8" fill="#151515" stroke="none" stroke-width="1"/>
<circle cx="463.5" cy="142.7" r="2.8" fill="#151515" stroke="none" stroke-width="1"/>
<circle cx="473.0" cy="140.3" r="2.8" fill="#151515" stroke="none" stroke-width="1"/>
<circle cx="486.3" cy="146.6" r="2.8" fill="#151515" stroke="none" stroke-width="1"/>
<circle cx="427.5" cy="139.1" r="2.8" fill="#151515" stroke="none" stroke-width="1"/>
<circle cx="417.4" cy="144.1" r="2.8" fill="#151515" stroke="none" stroke-width="1"/>
<circle cx="441.7" cy="139.1" r="2.8" fill="#151515" stroke="none" stroke-width="1"/>
<circle cx="446.3" cy="140.3" r="2.8" fill="#151515" stroke="none" stroke-width="1"/>
<circle cx="440.2" cy="149.0" r="2.8" fill="#151515" stroke="none" stroke-width="1"/>
<circle cx="446.7" cy="149.2" r="2.8" fill="#151515" stroke="none" stroke-width="1"/>
<circle cx="460.0" cy="159.5" r="2.8" fill="#151515" stroke="none" stroke-width="1"/>
<circle cx="405.2" cy="131.6" r="2.8" fill="#151515" stroke="none" stroke-width="1"/>
<circle cx="400.2" cy="146.8" r="2.8" fill="#151515" stroke="none" stroke-width="1"/>
<rect x="378" y="60.4" width="5.6" height="5.6" fill="#fff" stroke="#666" stroke-width="1"/>
<rect x="416" y="101.5" width="5.6" height="5.6" fill="#fff" stroke="#777" stroke-width="1"/>
<circle cx="351.3" cy="120.4" r="2.6" fill="#fff" stroke="#777" stroke-width="1"/>
<circle cx="435.1" cy="108.2" r="2.6" fill="#fff" stroke="#777" stroke-width="1"/>
<circle cx="341.6" cy="113.7" r="2.6" fill="#fff" stroke="#111" stroke-width="1.5"/>
<circle cx="392.8" cy="114.4" r="2.6" fill="#fff" stroke="#111" stroke-width="1.5"/>
<circle cx="392.8" cy="148.3" r="2.6" fill="#fff" stroke="#111" stroke-width="1.5"/>
<path d="M269.2 53.8V180.4H518.4V53.8H269.2" fill="none" stroke="#666" stroke-width="1.2"/>
<text x="266.2" y="62.3" font-size="8.5" text-anchor="end" fill="#444" stroke="#444" stroke-width="0.22"  style="">6</text>
<line x1="267.6" y1="59.2" x2="269.2" y2="59.2" stroke="#666" stroke-width="0.7"/>
<text x="266.2" y="91.5" font-size="8.5" text-anchor="end" fill="#444" stroke="#444" stroke-width="0.22"  style="">3</text>
<line x1="267.6" y1="88.5" x2="269.2" y2="88.5" stroke="#666" stroke-width="0.7"/>
<text x="266.2" y="120.8" font-size="8.5" text-anchor="end" fill="#444" stroke="#444" stroke-width="0.22"  style="">0</text>
<line x1="267.6" y1="117.7" x2="269.2" y2="117.7" stroke="#666" stroke-width="0.7"/>
<text x="266.2" y="150.0" font-size="8.5" text-anchor="end" fill="#444" stroke="#444" stroke-width="0.22"  style="">−3</text>
<line x1="267.6" y1="146.9" x2="269.2" y2="146.9" stroke="#666" stroke-width="0.7"/>
<text x="266.2" y="179.3" font-size="8.5" text-anchor="end" fill="#444" stroke="#444" stroke-width="0.22"  style="">−6</text>
<line x1="267.6" y1="176.2" x2="269.2" y2="176.2" stroke="#666" stroke-width="0.7"/>
<text x="289.5" y="190.2" font-size="8.5" text-anchor="middle" fill="#444" stroke="#444" stroke-width="0.22"  style="">−10</text>
<line x1="289.5" y1="180.3" x2="289.5" y2="181.8" stroke="#666" stroke-width="0.7"/>
<text x="338.2" y="190.2" font-size="8.5" text-anchor="middle" fill="#444" stroke="#444" stroke-width="0.22"  style="">−5</text>
<line x1="338.2" y1="180.3" x2="338.2" y2="181.8" stroke="#666" stroke-width="0.7"/>
<text x="387.0" y="190.2" font-size="8.5" text-anchor="middle" fill="#444" stroke="#444" stroke-width="0.22"  style="">0</text>
<line x1="387.0" y1="180.3" x2="387.0" y2="181.8" stroke="#666" stroke-width="0.7"/>
<text x="435.8" y="190.2" font-size="8.5" text-anchor="middle" fill="#444" stroke="#444" stroke-width="0.22"  style="">5</text>
<line x1="435.8" y1="180.3" x2="435.8" y2="181.8" stroke="#666" stroke-width="0.7"/>
<text x="484.5" y="190.2" font-size="8.5" text-anchor="middle" fill="#444" stroke="#444" stroke-width="0.22"  style="">10</text>
<line x1="484.5" y1="180.3" x2="484.5" y2="181.8" stroke="#666" stroke-width="0.7"/>
<text x="386.4" y="200.9" font-size="10.3" text-anchor="middle" fill="#1a1a1a" stroke="#1a1a1a" stroke-width="0.22"  style="">PC1 (26.3% explained var.)</text>
<g transform="translate(246,115.3) rotate(-90)">
<text x="0.0" y="0.0" font-size="10.3" text-anchor="middle" fill="#1a1a1a" stroke="#1a1a1a" stroke-width="0.22"  style="">PC2 (7.0% explained var.)</text>
</g>
<text x="0.2" y="252.8" font-size="16" text-anchor="start" fill="#111" stroke="#111" stroke-width="0.22" font-weight="bold" style="">C</text>
<text x="101.0" y="251.8" font-size="10" text-anchor="middle" fill="#1a1a1a" stroke="#1a1a1a" stroke-width="0.22"  style="font-style:italic">BAALC</text>
<path d="M51.4 255.9V365.8H142V255.9H51.4" fill="none" stroke="#666" stroke-width="1.2"/>
<text x="45.4" y="272.2" font-size="9.6" text-anchor="middle" fill="#1a1a1a" stroke="#1a1a1a" stroke-width="0.22"  style="">6</text>
<text x="45.4" y="302.1" font-size="9.6" text-anchor="middle" fill="#1a1a1a" stroke="#1a1a1a" stroke-width="0.22"  style="">4</text>
<text x="45.4" y="331.9" font-size="9.6" text-anchor="middle" fill="#1a1a1a" stroke="#1a1a1a" stroke-width="0.22"  style="">2</text>
<text x="45.4" y="361.8" font-size="9.6" text-anchor="middle" fill="#1a1a1a" stroke="#1a1a1a" stroke-width="0.22"  style="">0</text>
<path d="M60.8 265 Q60.8 263 62.9 263 Q65 263 65.2 266 L66.6 280 L66.6 322 Q66 326.5 63.5 326.5 Q60.8 326.5 60.6 322 Z" fill="#8a8a8a"/>
<circle cx="62.9" cy="260.8" r="2.3" fill="#8a8a8a" stroke="none" stroke-width="1"/>
<circle cx="62.9" cy="331.5" r="2.3" fill="#8a8a8a" stroke="none" stroke-width="1"/>
<circle cx="62.9" cy="361.0" r="2.3" fill="#8a8a8a" stroke="none" stroke-width="1"/>
<circle cx="80.7" cy="270.0" r="2.3" fill="#8a8a8a" stroke="none" stroke-width="1"/>
<circle cx="80.7" cy="272.5" r="2.3" fill="#8a8a8a" stroke="none" stroke-width="1"/>
<circle cx="80.7" cy="275.0" r="2.3" fill="#8a8a8a" stroke="none" stroke-width="1"/>
<circle cx="80.7" cy="277.5" r="2.3" fill="#8a8a8a" stroke="none" stroke-width="1"/>
<circle cx="80.7" cy="280.0" r="2.3" fill="#8a8a8a" stroke="none" stroke-width="1"/>
<circle cx="80.7" cy="282.5" r="2.3" fill="#8a8a8a" stroke="none" stroke-width="1"/>
<circle cx="80.7" cy="285.0" r="2.3" fill="#8a8a8a" stroke="none" stroke-width="1"/>
<circle cx="80.7" cy="287.9" r="2.3" fill="#8a8a8a" stroke="none" stroke-width="1"/>
<circle cx="80.7" cy="294.3" r="2.3" fill="#8a8a8a" stroke="none" stroke-width="1"/>
<circle cx="80.7" cy="297.0" r="2.3" fill="#8a8a8a" stroke="none" stroke-width="1"/>
<circle cx="80.7" cy="311.0" r="2.3" fill="#8a8a8a" stroke="none" stroke-width="1"/>
<circle cx="97.9" cy="265.0" r="2.3" fill="#8a8a8a" stroke="none" stroke-width="1"/>
<circle cx="97.9" cy="267.5" r="2.3" fill="#8a8a8a" stroke="none" stroke-width="1"/>
<circle cx="97.9" cy="270.0" r="2.3" fill="#8a8a8a" stroke="none" stroke-width="1"/>
<circle cx="97.9" cy="272.5" r="2.3" fill="#8a8a8a" stroke="none" stroke-width="1"/>
<circle cx="97.9" cy="275.0" r="2.3" fill="#8a8a8a" stroke="none" stroke-width="1"/>
<circle cx="97.9" cy="277.5" r="2.3" fill="#8a8a8a" stroke="none" stroke-width="1"/>
<circle cx="97.9" cy="280.0" r="2.3" fill="#8a8a8a" stroke="none" stroke-width="1"/>
<circle cx="97.9" cy="282.4" r="2.3" fill="#8a8a8a" stroke="none" stroke-width="1"/>
<circle cx="97.9" cy="287.0" r="2.3" fill="#8a8a8a" stroke="none" stroke-width="1"/>
<circle cx="97.9" cy="292.5" r="2.3" fill="#8a8a8a" stroke="none" stroke-width="1"/>
<circle cx="97.9" cy="298.8" r="2.3" fill="#8a8a8a" stroke="none" stroke-width="1"/>
<circle cx="97.9" cy="299.8" r="2.3" fill="#8a8a8a" stroke="none" stroke-width="1"/>
<circle cx="115.4" cy="263.2" r="2.3" fill="#8a8a8a" stroke="none" stroke-width="1"/>
<circle cx="115.4" cy="266.0" r="2.3" fill="#8a8a8a" stroke="none" stroke-width="1"/>
<circle cx="115.4" cy="268.7" r="2.3" fill="#8a8a8a" stroke="none" stroke-width="1"/>
<circle cx="115.4" cy="273.3" r="2.3" fill="#8a8a8a" stroke="none" stroke-width="1"/>
<circle cx="115.4" cy="280.6" r="2.3" fill="#8a8a8a" stroke="none" stroke-width="1"/>
<circle cx="132.6" cy="263.2" r="2.3" fill="#8a8a8a" stroke="none" stroke-width="1"/>
<circle cx="132.6" cy="265.0" r="2.3" fill="#8a8a8a" stroke="none" stroke-width="1"/>
<circle cx="132.6" cy="267.8" r="2.3" fill="#8a8a8a" stroke="none" stroke-width="1"/>
<circle cx="132.6" cy="270.5" r="2.3" fill="#8a8a8a" stroke="none" stroke-width="1"/>
<circle cx="132.6" cy="273.3" r="2.3" fill="#8a8a8a" stroke="none" stroke-width="1"/>
<line x1="56.4" y1="292.8" x2="71.0" y2="292.8" stroke="#111" stroke-width="1"/>
<line x1="73.4" y1="282.0" x2="88.4" y2="282.0" stroke="#111" stroke-width="1"/>
<line x1="90.6" y1="275.6" x2="105.7" y2="275.6" stroke="#111" stroke-width="1"/>
<line x1="108.1" y1="270.2" x2="123.1" y2="270.2" stroke="#111" stroke-width="1"/>
<line x1="124.9" y1="269.6" x2="139.9" y2="269.6" stroke="#111" stroke-width="1"/>
<text x="208.2" y="251.8" font-size="10" text-anchor="middle" fill="#1a1a1a" stroke="#1a1a1a" stroke-width="0.22"  style="font-style:italic">DNTT</text>
<path d="M160.2 255.9V366.2H251.3V255.9H160.2" fill="none" stroke="#666" stroke-width="1.2"/>
<text x="155.2" y="272.2" font-size="9.6" text-anchor="middle" fill="#1a1a1a" stroke="#1a1a1a" stroke-width="0.22"  style="">6</text>
<text x="155.2" y="302.1" font-size="9.6" text-anchor="middle" fill="#1a1a1a" stroke="#1a1a1a" stroke-width="0.22"  style="">4</text>
<text x="155.2" y="331.9" font-size="9.6" text-anchor="middle" fill="#1a1a1a" stroke="#1a1a1a" stroke-width="0.22"  style="">2</text>
<text x="155.2" y="361.8" font-size="9.6" text-anchor="middle" fill="#1a1a1a" stroke="#1a1a1a" stroke-width="0.22"  style="">0</text>
<path d="M169.6 266 Q169.6 264 172 264 Q174.4 264 174.6 266 L175 300 L174.9 337 Q174 345 172.2 345 Q170.2 345 169.6 337 L169.2 300 Z" fill="#8a8a8a"/>
<circle cx="172.0" cy="261.2" r="2.3" fill="#8a8a8a" stroke="none" stroke-width="1"/>
<circle cx="172.1" cy="349.0" r="2.3" fill="#8a8a8a" stroke="none" stroke-width="1"/>
<circle cx="170.8" cy="361.2" r="2.3" fill="#8a8a8a" stroke="none" stroke-width="1"/>
<circle cx="173.4" cy="361.2" r="2.3" fill="#8a8a8a" stroke="none" stroke-width="1"/>
<circle cx="189.2" cy="273.6" r="2.3" fill="#8a8a8a" stroke="none" stroke-width="1"/>
<circle cx="189.2" cy="275.3" r="2.3" fill="#8a8a8a" stroke="none" stroke-width="1"/>
<circle cx="189.2" cy="282.1" r="2.3" fill="#8a8a8a" stroke="none" stroke-width="1"/>
<circle cx="189.2" cy="298.0" r="2.3" fill="#8a8a8a" stroke="none" stroke-width="1"/>
<circle cx="189.2" cy="306.3" r="2.3" fill="#8a8a8a" stroke="none" stroke-width="1"/>
<circle cx="189.2" cy="311.3" r="2.3" fill="#8a8a8a" stroke="none" stroke-width="1"/>
<circle cx="189.2" cy="314.3" r="2.3" fill="#8a8a8a" stroke="none" stroke-width="1"/>
<circle cx="189.2" cy="316.0" r="2.3" fill="#8a8a8a" stroke="none" stroke-width="1"/>
<circle cx="189.2" cy="324.9" r="2.3" fill="#8a8a8a" stroke="none" stroke-width="1"/>
<circle cx="189.2" cy="331.9" r="2.3" fill="#8a8a8a" stroke="none" stroke-width="1"/>
<circle cx="206.6" cy="261.7" r="2.3" fill="#8a8a8a" stroke="none" stroke-width="1"/>
<circle cx="206.6" cy="270.9" r="2.3" fill="#8a8a8a" stroke="none" stroke-width="1"/>
<circle cx="206.6" cy="272.7" r="2.3" fill="#8a8a8a" stroke="none" stroke-width="1"/>
<circle cx="206.6" cy="278.0" r="2.3" fill="#8a8a8a" stroke="none" stroke-width="1"/>
<circle cx="206.6" cy="279.8" r="2.3" fill="#8a8a8a" stroke="none" stroke-width="1"/>
<circle cx="206.6" cy="281.5" r="2.3" fill="#8a8a8a" stroke="none" stroke-width="1"/>
<circle cx="206.6" cy="283.3" r="2.3" fill="#8a8a8a" stroke="none" stroke-width="1"/>
<circle cx="206.6" cy="286.0" r="2.3" fill="#8a8a8a" stroke="none" stroke-width="1"/>
<circle cx="206.6" cy="287.7" r="2.3" fill="#8a8a8a" stroke="none" stroke-width="1"/>
<circle cx="206.6" cy="293.9" r="2.3" fill="#8a8a8a" stroke="none" stroke-width="1"/>
<circle cx="206.6" cy="294.8" r="2.3" fill="#8a8a8a" stroke="none" stroke-width="1"/>
<circle cx="206.6" cy="306.3" r="2.3" fill="#8a8a8a" stroke="none" stroke-width="1"/>
<circle cx="206.6" cy="313.6" r="2.3" fill="#8a8a8a" stroke="none" stroke-width="1"/>
<circle cx="206.6" cy="319.1" r="2.3" fill="#8a8a8a" stroke="none" stroke-width="1"/>
<circle cx="206.6" cy="323.2" r="2.3" fill="#8a8a8a" stroke="none" stroke-width="1"/>
<circle cx="206.6" cy="325.7" r="2.3" fill="#8a8a8a" stroke="none" stroke-width="1"/>
<circle cx="223.3" cy="262.4" r="2.3" fill="#8a8a8a" stroke="none" stroke-width="1"/>
<circle cx="223.3" cy="272.3" r="2.3" fill="#8a8a8a" stroke="none" stroke-width="1"/>
<circle cx="223.3" cy="274.1" r="2.3" fill="#8a8a8a" stroke="none" stroke-width="1"/>
<circle cx="223.3" cy="275.9" r="2.3" fill="#8a8a8a" stroke="none" stroke-width="1"/>
<circle cx="223.3" cy="331.2" r="2.3" fill="#8a8a8a" stroke="none" stroke-width="1"/>
<circle cx="241.0" cy="260.7" r="2.3" fill="#8a8a8a" stroke="none" stroke-width="1"/>
<circle cx="241.0" cy="263.0" r="2.3" fill="#8a8a8a" stroke="none" stroke-width="1"/>
<circle cx="241.0" cy="265.6" r="2.3" fill="#8a8a8a" stroke="none" stroke-width="1"/>
<circle cx="241.0" cy="268.3" r="2.3" fill="#8a8a8a" stroke="none" stroke-width="1"/>
<circle cx="241.0" cy="277.1" r="2.3" fill="#8a8a8a" stroke="none" stroke-width="1"/>
<circle cx="241.0" cy="281.9" r="2.3" fill="#8a8a8a" stroke="none" stroke-width="1"/>
<line x1="164.6" y1="308.2" x2="179.7" y2="308.2" stroke="#111" stroke-width="1"/>
<line x1="181.8" y1="312.0" x2="197.3" y2="312.0" stroke="#111" stroke-width="1"/>
<line x1="198.9" y1="285.5" x2="214.5" y2="285.5" stroke="#111" stroke-width="1"/>
<line x1="216.3" y1="275.0" x2="231.7" y2="275.0" stroke="#111" stroke-width="1"/>
<line x1="233.4" y1="266.0" x2="248.5" y2="266.0" stroke="#111" stroke-width="1"/>
<text transform="translate(63.5,370) rotate(-90)" x="0" y="0" font-size="9" text-anchor="end" fill="#1a1a1a" stroke="#1a1a1a" stroke-width="0.22" dy="3.2">wt</text>
<text transform="translate(81.5,370) rotate(-90)" x="0" y="0" font-size="9" text-anchor="end" fill="#1a1a1a" stroke="#1a1a1a" stroke-width="0.22" dy="3.2">mis</text>
<text transform="translate(98.1,370) rotate(-90)" x="0" y="0" font-size="9" text-anchor="end" fill="#1a1a1a" stroke="#1a1a1a" stroke-width="0.22" dy="3.2">ns/fs</text>
<text transform="translate(115.4,370) rotate(-90)" x="0" y="0" font-size="9" text-anchor="end" fill="#1a1a1a" stroke="#1a1a1a" stroke-width="0.22" dy="3.2">mis</text>
<text transform="translate(132.3,370) rotate(-90)" x="0" y="0" font-size="9" text-anchor="end" fill="#1a1a1a" stroke="#1a1a1a" stroke-width="0.22" dy="3.2">ns/fs</text>
<text transform="translate(172.7,370) rotate(-90)" x="0" y="0" font-size="9" text-anchor="end" fill="#1a1a1a" stroke="#1a1a1a" stroke-width="0.22" dy="3.2">wt</text>
<text transform="translate(190.6,370) rotate(-90)" x="0" y="0" font-size="9" text-anchor="end" fill="#1a1a1a" stroke="#1a1a1a" stroke-width="0.22" dy="3.2">mis</text>
<text transform="translate(206.9,370) rotate(-90)" x="0" y="0" font-size="9" text-anchor="end" fill="#1a1a1a" stroke="#1a1a1a" stroke-width="0.22" dy="3.2">ns/fs</text>
<text transform="translate(224.6,370) rotate(-90)" x="0" y="0" font-size="9" text-anchor="end" fill="#1a1a1a" stroke="#1a1a1a" stroke-width="0.22" dy="3.2">mis</text>
<text transform="translate(242.5,370) rotate(-90)" x="0" y="0" font-size="9" text-anchor="end" fill="#1a1a1a" stroke="#1a1a1a" stroke-width="0.22" dy="3.2">ns/fs</text>
<text x="7.9" y="378.8" font-size="9.8" text-anchor="start" fill="#1a1a1a" stroke="#1a1a1a" stroke-width="0.22"  style=""><tspan font-style="italic">RUNX1</tspan><tspan font-size="5.5" font-style="italic" dy="-3.5">mut</tspan></text>
<text x="39.0" y="403.0" font-size="9" text-anchor="middle" fill="#1a1a1a" stroke="#1a1a1a" stroke-width="0.22"  style="">wt</text>
<text x="80.0" y="403.0" font-size="9" text-anchor="middle" fill="#1a1a1a" stroke="#1a1a1a" stroke-width="0.22"  style="">-/+</text>
<text x="98.1" y="403.0" font-size="9" text-anchor="middle" fill="#1a1a1a" stroke="#1a1a1a" stroke-width="0.22"  style="">-/+</text>
<text x="115.9" y="403.0" font-size="9" text-anchor="middle" fill="#1a1a1a" stroke="#1a1a1a" stroke-width="0.22"  style="">-/-</text>
<text x="132.7" y="403.0" font-size="9" text-anchor="middle" fill="#1a1a1a" stroke="#1a1a1a" stroke-width="0.22"  style="">-/-</text>
<text x="190.2" y="403.0" font-size="9" text-anchor="middle" fill="#1a1a1a" stroke="#1a1a1a" stroke-width="0.22"  style="">-/+</text>
<text x="207.3" y="403.0" font-size="9" text-anchor="middle" fill="#1a1a1a" stroke="#1a1a1a" stroke-width="0.22"  style="">-/+</text>
<text x="225.2" y="403.0" font-size="9" text-anchor="middle" fill="#1a1a1a" stroke="#1a1a1a" stroke-width="0.22"  style="">-/-</text>
<text x="242.5" y="403.0" font-size="9" text-anchor="middle" fill="#1a1a1a" stroke="#1a1a1a" stroke-width="0.22"  style="">-/-</text>
<text x="284.2" y="252.9" font-size="15.8" text-anchor="start" fill="#111" stroke="#111" stroke-width="0.22" font-weight="bold" style="">D</text>
<path d="M321.2 269.0 C321.2 270.8 321.2 276.8 321.3 280.0 C321.4 283.2 321.6 286.0 321.8 288.0 C322.0 290.0 322.1 290.5 322.4 291.9 C322.6 293.3 322.9 295.0 323.3 296.6 C323.8 298.2 324.3 299.8 325.1 301.3 C325.9 302.8 326.7 304.1 328.0 305.5 C329.3 306.9 331.0 308.2 332.8 309.6 C334.6 311.0 336.5 312.5 338.7 313.8 C340.9 315.1 343.2 316.2 345.8 317.4 C348.4 318.6 351.3 319.7 354.1 320.9 C356.9 322.1 359.8 323.4 362.4 324.5 C365.0 325.6 367.1 326.4 370.0 327.5 C372.9 328.6 376.4 330.0 379.6 331.3 C382.8 332.6 386.0 333.9 389.2 335.2 C392.4 336.5 395.6 337.7 398.8 339.0 C402.0 340.3 405.3 341.8 408.5 342.9 C411.7 344.0 414.9 344.8 418.1 345.8 C421.3 346.9 424.5 348.1 427.7 349.2 C430.9 350.3 434.1 351.3 437.3 352.5 C440.5 353.7 444.3 355.0 446.9 356.3 C449.5 357.6 451.1 358.8 452.7 360.2 C454.3 361.6 455.5 363.2 456.5 365.0 C457.5 366.8 458.2 368.6 458.8 370.8 C459.4 373.1 459.6 375.8 459.8 378.5 C460.0 381.2 460.0 385.7 460.0 387.1" fill="none" stroke="#959595" stroke-width="4.6" stroke-linecap="round"/>
<line x1="315.5" y1="333.2" x2="467" y2="333.2" stroke="#111" stroke-width="1" stroke-dasharray="1.1,1.5"/>
<circle cx="321.1" cy="269.8" r="2.2" fill="#151515" stroke="none" stroke-width="1"/>
<circle cx="321.7" cy="281.6" r="2.2" fill="#151515" stroke="none" stroke-width="1"/>
<circle cx="321.8" cy="283.5" r="2.2" fill="#151515" stroke="none" stroke-width="1"/>
<circle cx="322.0" cy="285.5" r="2.2" fill="#151515" stroke="none" stroke-width="1"/>
<circle cx="322.3" cy="287.5" r="2.2" fill="#151515" stroke="none" stroke-width="1"/>
<circle cx="322.6" cy="289.5" r="2.2" fill="#151515" stroke="none" stroke-width="1"/>
<circle cx="322.9" cy="291.2" r="2.2" fill="#151515" stroke="none" stroke-width="1"/>
<line x1="322.5" y1="268.5" x2="327.5" y2="261.5" stroke="#222" stroke-width="0.8"/>
<line x1="323.5" y1="270.8" x2="327" y2="270.8" stroke="#222" stroke-width="0.8"/>
<line x1="322.7" y1="279.8" x2="365" y2="269.6" stroke="#222" stroke-width="0.8"/>
<line x1="322.7" y1="282.3" x2="365" y2="277.7" stroke="#222" stroke-width="0.8"/>
<line x1="322.7" y1="285.1" x2="365" y2="285.8" stroke="#222" stroke-width="0.8"/>
<line x1="323.8" y1="288.1" x2="403.5" y2="295" stroke="#222" stroke-width="0.8"/>
<line x1="323.8" y1="291.1" x2="351.5" y2="299.6" stroke="#222" stroke-width="0.8"/>
<line x1="403.8" y1="274.2" x2="403.8" y2="314.8" stroke="#222" stroke-width="0.8"/>
<text x="327.5" y="263.8" font-size="9.3" text-anchor="start" fill="#1a1a1a" stroke="#1a1a1a" stroke-width="0.22"  style="font-style:italic">PTK2</text>
<text x="327.3" y="273.3" font-size="9.3" text-anchor="start" fill="#1a1a1a" stroke="#1a1a1a" stroke-width="0.22"  style="font-style:italic">TCF4</text>
<text x="365.8" y="273.1" font-size="9.3" text-anchor="start" fill="#1a1a1a" stroke="#1a1a1a" stroke-width="0.22"  style="font-style:italic">RUNX2</text>
<text x="365.8" y="281.2" font-size="9.3" text-anchor="start" fill="#1a1a1a" stroke="#1a1a1a" stroke-width="0.22"  style="font-style:italic">DNTT</text>
<text x="365.8" y="289.3" font-size="9.3" text-anchor="start" fill="#1a1a1a" stroke="#1a1a1a" stroke-width="0.22"  style="font-style:italic">LMO2</text>
<text x="352.7" y="305.4" font-size="9.3" text-anchor="start" fill="#1a1a1a" stroke="#1a1a1a" stroke-width="0.22"  style="font-style:italic">NR3C1</text>
<text x="407.8" y="282.3" font-size="9.3" text-anchor="start" fill="#1a1a1a" stroke="#1a1a1a" stroke-width="0.22"  style="font-style:italic">L3MBTL4</text>
<text x="407.8" y="290.4" font-size="9.3" text-anchor="start" fill="#1a1a1a" stroke="#1a1a1a" stroke-width="0.22"  style="font-style:italic">BAALC</text>
<text x="407.8" y="298.5" font-size="9.3" text-anchor="start" fill="#1a1a1a" stroke="#1a1a1a" stroke-width="0.22"  style="font-style:italic">ETV6</text>
<text x="407.8" y="306.6" font-size="9.3" text-anchor="start" fill="#1a1a1a" stroke="#1a1a1a" stroke-width="0.22"  style="font-style:italic">RUNX1</text>
<text x="407.8" y="314.7" font-size="9.3" text-anchor="start" fill="#1a1a1a" stroke="#1a1a1a" stroke-width="0.22"  style="font-style:italic">CREBBP</text>
<path d="M314.8 256.3V393.1H467.3V256.3H314.8" fill="none" stroke="#666" stroke-width="1.2"/>
<text x="311.9" y="290.2" font-size="9" text-anchor="end" fill="#1a1a1a" stroke="#1a1a1a" stroke-width="0.22"  style="">0.5</text>
<line x1="313.4" y1="287.0" x2="314.8" y2="287.0" stroke="#666" stroke-width="0.7"/>
<text x="311.9" y="334.8" font-size="9" text-anchor="end" fill="#1a1a1a" stroke="#1a1a1a" stroke-width="0.22"  style="">0.0</text>
<line x1="313.4" y1="331.6" x2="314.8" y2="331.6" stroke="#666" stroke-width="0.7"/>
<text x="311.9" y="378.7" font-size="9" text-anchor="end" fill="#1a1a1a" stroke="#1a1a1a" stroke-width="0.22"  style="">−0.5</text>
<line x1="313.4" y1="375.5" x2="314.8" y2="375.5" stroke="#666" stroke-width="0.7"/>
<text x="321.2" y="405.6" font-size="9" text-anchor="middle" fill="#1a1a1a" stroke="#1a1a1a" stroke-width="0.22"  style="">0</text>
<line x1="321.2" y1="393.1" x2="321.2" y2="394.5" stroke="#666" stroke-width="0.7"/>
<text x="366.3" y="405.6" font-size="9" text-anchor="middle" fill="#1a1a1a" stroke="#1a1a1a" stroke-width="0.22"  style="">5,000</text>
<line x1="366.3" y1="393.1" x2="366.3" y2="394.5" stroke="#666" stroke-width="0.7"/>
<text x="411.4" y="405.6" font-size="9" text-anchor="middle" fill="#1a1a1a" stroke="#1a1a1a" stroke-width="0.22"  style="">10,000</text>
<line x1="411.4" y1="393.1" x2="411.4" y2="394.5" stroke="#666" stroke-width="0.7"/>
<text x="456.5" y="405.6" font-size="9" text-anchor="middle" fill="#1a1a1a" stroke="#1a1a1a" stroke-width="0.22"  style="">15,000</text>
<line x1="456.5" y1="393.1" x2="456.5" y2="394.5" stroke="#666" stroke-width="0.7"/>
<text x="396.0" y="419.0" font-size="9.2" text-anchor="middle" fill="#1a1a1a" stroke="#1a1a1a" stroke-width="0.22"  style="">Index</text>
<g transform="translate(288.6,332.4) rotate(-90)">
<text x="0.0" y="0.0" font-size="9.2" text-anchor="middle" fill="#1a1a1a" stroke="#1a1a1a" stroke-width="0.22"  style="">Correlation</text>
</g>
<rect x="480.30" y="257.30" width="1.20" height="9.50" fill="#e6e6e6"/>
<rect x="481.45" y="257.30" width="2.74" height="9.50" fill="#f2f2f2"/>
<rect x="484.15" y="257.30" width="1.59" height="9.50" fill="#dedede"/>
<rect x="485.68" y="257.30" width="2.36" height="9.50" fill="#efefef"/>
<rect x="487.99" y="257.30" width="1.59" height="9.50" fill="#e2e2e2"/>
<rect x="489.53" y="257.30" width="1.97" height="9.50" fill="#f0f0f0"/>
<rect x="491.45" y="257.30" width="1.97" height="9.50" fill="#d2d2d2"/>
<rect x="493.38" y="257.30" width="2.36" height="9.50" fill="#dedede"/>
<rect x="495.68" y="257.30" width="2.36" height="9.50" fill="#ececec"/>
<rect x="497.99" y="257.30" width="2.36" height="9.50" fill="#cfcfcf"/>
<rect x="500.30" y="257.30" width="2.36" height="9.50" fill="#e8e8e8"/>
<rect x="502.61" y="257.30" width="1.97" height="9.50" fill="#dcdcdc"/>
<rect x="504.53" y="257.30" width="1.20" height="9.50" fill="#aaaaaa"/>
<rect x="505.68" y="257.30" width="1.59" height="9.50" fill="#888888"/>
<rect x="507.22" y="257.30" width="1.59" height="9.50" fill="#606060"/>
<rect x="508.76" y="257.30" width="1.20" height="9.50" fill="#444444"/>
<rect x="509.92" y="257.30" width="1.97" height="9.50" fill="#333333"/>
<rect x="511.84" y="257.30" width="1.59" height="9.50" fill="#3a3a3a"/>
<rect x="513.38" y="257.30" width="1.59" height="9.50" fill="#222222"/>
<rect x="480.30" y="266.80" width="1.20" height="9.50" fill="#e6e6e6"/>
<rect x="481.45" y="266.80" width="2.74" height="9.50" fill="#f0f0f0"/>
<rect x="484.15" y="266.80" width="1.59" height="9.50" fill="#dadada"/>
<rect x="485.68" y="266.80" width="2.36" height="9.50" fill="#ededed"/>
<rect x="487.99" y="266.80" width="1.59" height="9.50" fill="#dedede"/>
<rect x="489.53" y="266.80" width="1.97" height="9.50" fill="#eeeeee"/>
<rect x="491.45" y="266.80" width="1.97" height="9.50" fill="#cdcdcd"/>
<rect x="493.38" y="266.80" width="2.36" height="9.50" fill="#dadada"/>
<rect x="495.68" y="266.80" width="2.36" height="9.50" fill="#e8e8e8"/>
<rect x="497.99" y="266.80" width="2.36" height="9.50" fill="#cbcbcb"/>
<rect x="500.30" y="266.80" width="2.36" height="9.50" fill="#e4e4e4"/>
<rect x="502.61" y="266.80" width="1.97" height="9.50" fill="#d6d6d6"/>
<rect x="504.53" y="266.80" width="1.20" height="9.50" fill="#aaaaaa"/>
<rect x="505.68" y="266.80" width="1.59" height="9.50" fill="#8a8a8a"/>
<rect x="507.22" y="266.80" width="1.59" height="9.50" fill="#707070"/>
<rect x="508.76" y="266.80" width="1.20" height="9.50" fill="#505050"/>
<rect x="509.92" y="266.80" width="1.97" height="9.50" fill="#111111"/>
<rect x="511.84" y="266.80" width="1.59" height="9.50" fill="#080808"/>
<rect x="513.38" y="266.80" width="1.59" height="9.50" fill="#151515"/>
<rect x="480.3" y="257.3" width="34.6" height="19" fill="none" stroke="#555" stroke-width="0.7"/>
<rect x="480.30" y="382.30" width="2.36" height="9.90" fill="#151515"/>
<rect x="482.61" y="382.30" width="2.36" height="9.90" fill="#222222"/>
<rect x="484.92" y="382.30" width="3.13" height="9.90" fill="#6a6a6a"/>
<rect x="487.99" y="382.30" width="2.74" height="9.90" fill="#999999"/>
<rect x="490.68" y="382.30" width="5.05" height="9.90" fill="#c8c8c8"/>
<rect x="495.68" y="382.30" width="3.13" height="9.90" fill="#e8e8e8"/>
<rect x="498.76" y="382.30" width="5.82" height="9.90" fill="#d6d6d6"/>
<rect x="504.53" y="382.30" width="2.74" height="9.90" fill="#f0f0f0"/>
<rect x="507.22" y="382.30" width="1.97" height="9.90" fill="#dddddd"/>
<rect x="509.15" y="382.30" width="2.74" height="9.90" fill="#f2f2f2"/>
<rect x="511.84" y="382.30" width="2.74" height="9.90" fill="#e0e0e0"/>
<rect x="480.3" y="382.3" width="34.2" height="9.9" fill="none" stroke="#666" stroke-width="0.7"/>
<text x="474.8" y="264.0" font-size="9.5" text-anchor="middle" fill="#1a1a1a" stroke="#1a1a1a" stroke-width="0.22"  style="">1</text>
<text x="474.8" y="274.6" font-size="9.5" text-anchor="middle" fill="#1a1a1a" stroke="#1a1a1a" stroke-width="0.22"  style="">2</text>
<text x="476.0" y="390.8" font-size="9.5" text-anchor="middle" fill="#1a1a1a" stroke="#1a1a1a" stroke-width="0.22"  style="">n</text>
<text x="467.1" y="254.3" font-size="9.2" text-anchor="end" fill="#1a1a1a" stroke="#1a1a1a" stroke-width="0.22"  style="">Gene #</text>
<path d="M469 250.7H474.8V257" fill="none" stroke="#222" stroke-width="0.9"/>
<text x="461.0" y="231.8" font-size="9" text-anchor="middle" fill="#1a1a1a" stroke="#1a1a1a" stroke-width="0.22"  style="">wt</text>
<text x="480.8" y="232.0" font-size="7.4" text-anchor="middle" fill="#1a1a1a" stroke="#1a1a1a" stroke-width="0.22"  style="">-/+</text>
<text x="492.9" y="232.0" font-size="7.4" text-anchor="middle" fill="#1a1a1a" stroke="#1a1a1a" stroke-width="0.22"  style="">-/+</text>
<text x="503.3" y="232.0" font-size="7.4" text-anchor="middle" fill="#1a1a1a" stroke="#1a1a1a" stroke-width="0.22"  style="">-/-</text>
<text x="513.8" y="232.0" font-size="7.4" text-anchor="middle" fill="#1a1a1a" stroke="#1a1a1a" stroke-width="0.22"  style="">-/-</text>
<text transform="translate(481.9,253.8) rotate(-90)" x="0" y="0" font-size="8.6" fill="#1a1a1a" stroke="#1a1a1a" stroke-width="0.22" dy="3.1">mis</text>
<text transform="translate(493.1,253.8) rotate(-90)" x="0" y="0" font-size="8.6" fill="#1a1a1a" stroke="#1a1a1a" stroke-width="0.22" dy="3.1">ns/fs</text>
<text transform="translate(502.7,253.8) rotate(-90)" x="0" y="0" font-size="8.6" fill="#1a1a1a" stroke="#1a1a1a" stroke-width="0.22" dy="3.1">mis</text>
<text transform="translate(513.3,253.8) rotate(-90)" x="0" y="0" font-size="8.6" fill="#1a1a1a" stroke="#1a1a1a" stroke-width="0.22" dy="3.1">ns/fs</text>
<line x1="518.1" y1="257.5" x2="518.1" y2="278" stroke="#bbb" stroke-width="0.9"/>
<line x1="518.1" y1="278" x2="518.1" y2="389" stroke="#888" stroke-width="0.8" stroke-dasharray="1,1.5"/>
<circle cx="518.1" cy="390.1" r="1.2" fill="#111" stroke="none" stroke-width="1"/>
</svg></body></html>
